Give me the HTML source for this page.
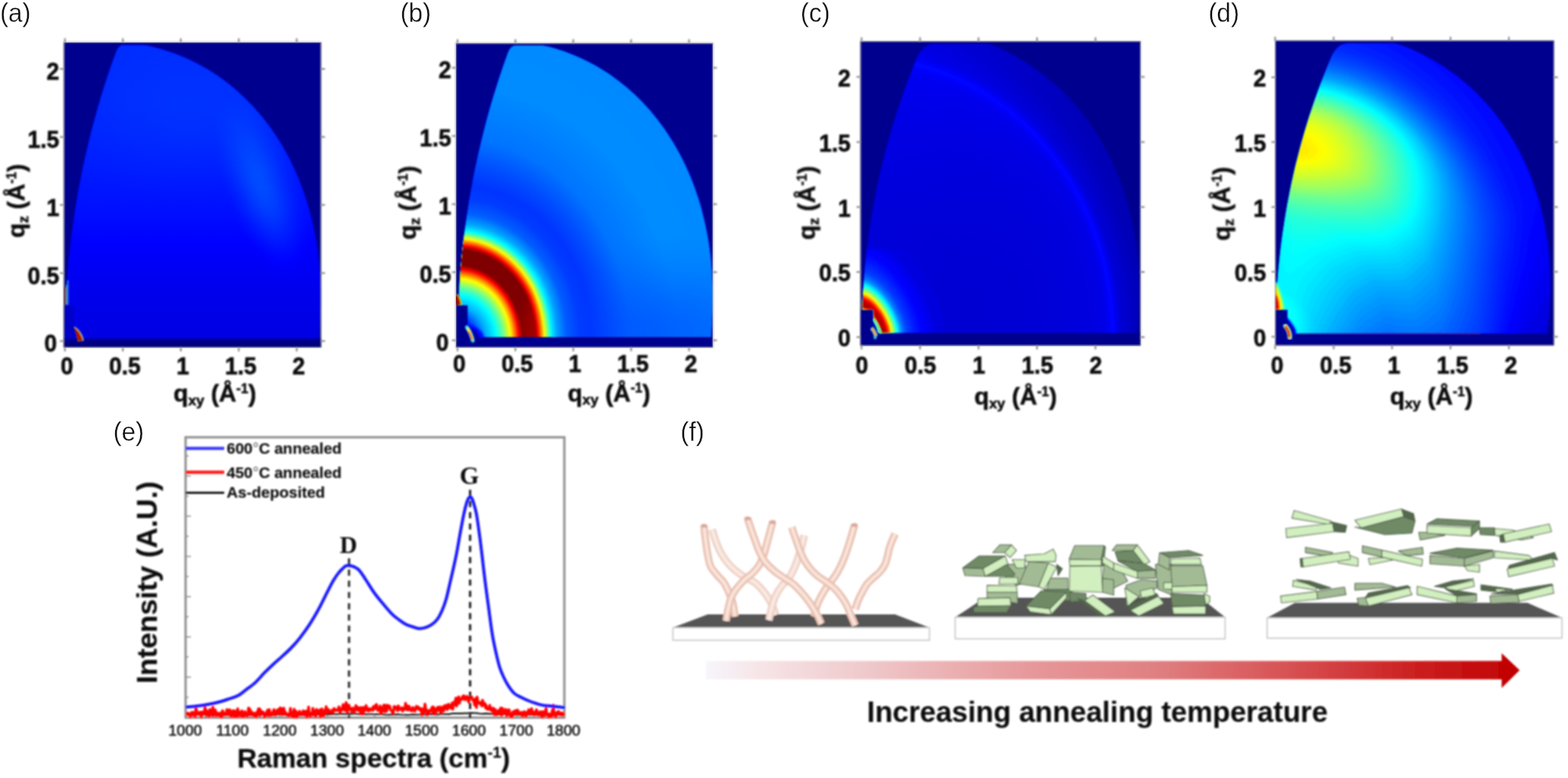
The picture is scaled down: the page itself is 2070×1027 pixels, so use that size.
<!DOCTYPE html>
<html lang="en"><head><meta charset="utf-8"><title>Figure</title>
<style>
html,body{margin:0;padding:0;background:#fff}
body{width:2070px;height:1027px;overflow:hidden;position:relative}
svg{position:absolute;left:0;top:0;display:block}
text{font-family:"Liberation Sans",sans-serif;fill:#111}
.b{font-weight:bold}
.ser{font-family:"Liberation Serif",serif;font-weight:bold}
</style></head><body>
<svg width="2070" height="1027" viewBox="0 0 2070 1027">
<defs>
<filter id="jet" x="0" y="0" width="100%" height="100%" filterUnits="objectBoundingBox" color-interpolation-filters="sRGB">
<feComponentTransfer>
<feFuncR type="table" tableValues="0 0 0 0 .5 1 1 1 .5"/>
<feFuncG type="table" tableValues="0 0 .5 1 1 1 .5 0 0"/>
<feFuncB type="table" tableValues=".5 1 1 1 .5 0 0 0 0"/>
</feComponentTransfer>
<feGaussianBlur stdDeviation="1.05"/>
</filter>
<filter id="soft" x="-5%" y="-5%" width="110%" height="110%"><feGaussianBlur stdDeviation="1.1"/></filter><filter id="tx" x="-5%" y="-10%" width="110%" height="120%"><feGaussianBlur stdDeviation="1.15"/></filter>
<filter id="fb" x="-3%" y="-3%" width="106%" height="106%" color-interpolation-filters="sRGB"><feGaussianBlur stdDeviation="1.6"/></filter>
<filter id="fb1" x="-10%" y="-10%" width="120%" height="120%" color-interpolation-filters="sRGB"><feGaussianBlur stdDeviation="1.0"/></filter>
<filter id="tagf" x="-5%" y="-10%" width="110%" height="120%"><feGaussianBlur stdDeviation="0.45"/></filter>
<filter id="ov" x="-20%" y="-20%" width="140%" height="140%"><feGaussianBlur stdDeviation="1.05"/></filter>
<filter id="soft2" x="-5%" y="-5%" width="110%" height="110%"><feGaussianBlur stdDeviation="1.1"/></filter>
<clipPath id="cpa"><rect x="84.5" y="56" width="339.1" height="402.4"/></clipPath><clipPath id="cpb"><rect x="602" y="57.2" width="339" height="401.1"/></clipPath><clipPath id="cpc"><rect x="1136.2" y="54.8" width="369.4" height="401"/></clipPath><clipPath id="cpd"><rect x="1684" y="54" width="367.2" height="401.5"/></clipPath><clipPath id="sa"><path d="M85.7 450.2L85.7 440.4L85.9 430.6L86.1 420.9L86.4 411.1L86.8 401.3L87.2 391.6L87.8 381.8L88.4 372L89.1 362.2L89.9 352.4L90.8 342.7L91.8 332.9L92.9 323.1L94 313.4L95.3 303.6L96.6 293.8L98 284L99.5 274.2L101.1 264.5L102.8 254.7L104.6 244.9L106.5 235.1L108.4 225.4L110.5 215.6L112.6 205.8L114.9 196.1L117.2 186.3L119.6 176.5L122.1 166.7L124.8 157L127.5 147.2L130.3 137.4L133.2 127.6L136.2 117.9L139.3 108.1L142.6 98.3L145.9 88.5L149.3 78.8L152.9 69L153.6 67.1L154.4 65.5L155.3 64L156.2 62.7L157.1 61.6L158.1 60.8L159.2 60.1L160.3 59.6L161.4 59.3L162.6 59.2L167.9 59.2L173.1 59.2L178.4 59.2L183.7 59.2L188.9 59.2L194.2 60L199.4 61.1L204.7 62.4L209.9 63.8L215.1 65.3L220.3 66.9L225.5 68.7L230.7 70.5L235.8 72.5L240.9 74.5L246 76.7L251 79L256.1 81.5L261 84L266 86.7L270.9 89.4L275.8 92.3L280.6 95.3L285.3 98.4L290.1 101.7L294.7 105L299.3 108.5L303.9 112L308.4 115.7L312.8 119.5L317.1 123.4L321.4 127.4L325.7 131.5L329.8 135.7L333.9 140L337.9 144.4L341.8 148.9L345.7 153.5L349.4 158.2L353.1 162.9L356.7 167.8L360.2 172.7L363.6 177.8L367 182.9L370.2 188.1L373.3 193.3L376.4 198.7L379.3 204.1L382.2 209.5L385 215L387.6 220.6L390.2 226.3L392.7 232L395.1 237.7L397.3 243.5L399.5 249.4L401.6 255.3L403.6 261.2L405.5 267.1L407.2 273.1L408.9 279.2L410.5 285.2L412 291.3L413.4 297.4L414.7 303.5L415.9 309.7L417 315.8L418 322L418.9 328.1L419.7 334.3L420.5 340.5L421.1 346.7L421.7 352.8L422.2 359L422.5 365.2L422.9 371.4L423.1 377.5L423.2 383.7L423.3 389.8L423.3 395.9L423.2 402L423.1 408.1L422.9 414.2L422.6 420.2L422.3 426.3L422 432.3L421.6 438.3L421.1 444.2L420.8 450.2L420.8 452L85.7 452Z"/></clipPath><clipPath id="sb"><path d="M604 449.2L604 439.5L604.2 429.7L604.4 420L604.7 410.3L605 400.6L605.5 390.8L606.1 381.1L606.7 371.4L607.4 361.6L608.2 351.9L609.1 342.2L610 332.4L611.1 322.7L612.2 313L613.5 303.2L614.8 293.5L616.2 283.8L617.7 274.1L619.2 264.3L620.9 254.6L622.7 244.9L624.5 235.1L626.4 225.4L628.5 215.7L630.6 206L632.8 196.2L635.1 186.5L637.5 176.8L640 167L642.5 157.3L645.2 147.6L648 137.8L650.9 128.1L653.9 118.4L656.9 108.7L660.1 98.9L663.4 89.2L666.8 79.5L670.3 69.7L671 67.9L671.9 66.2L672.7 64.8L673.6 63.5L674.6 62.4L675.7 61.6L676.7 60.9L677.9 60.4L679.1 60.1L680.4 60L685.6 60L690.9 60L696.2 60L701.4 60L706.7 60L711.9 60L717.2 60L722.4 60.9L727.6 62.3L732.9 63.8L738.1 65.4L743.2 67.1L748.4 68.9L753.5 70.9L758.6 73L763.7 75.2L768.8 77.5L773.8 79.9L778.8 82.4L783.7 85.1L788.6 87.8L793.5 90.7L798.3 93.7L803.1 96.8L807.8 100.1L812.5 103.4L817.1 106.9L821.6 110.4L826.1 114.1L830.6 117.9L834.9 121.8L839.2 125.8L843.4 129.9L847.6 134.1L851.7 138.4L855.7 142.8L859.6 147.3L863.4 151.9L867.2 156.6L870.9 161.4L874.5 166.3L878 171.2L881.4 176.2L884.7 181.4L888 186.6L891.1 191.8L894.2 197.2L897.2 202.6L900 208L902.8 213.6L905.5 219.2L908 224.8L910.5 230.5L912.9 236.3L915.2 242.1L917.3 248L919.4 253.9L921.4 259.8L923.3 265.8L925.1 271.8L926.8 277.8L928.3 283.9L929.8 290L931.2 296.1L932.5 302.2L933.7 308.4L934.8 314.5L935.8 320.7L936.8 326.9L937.6 333.1L938.3 339.3L939 345.5L939.5 351.6L940 357.8L940.4 364L940.7 370.2L940.9 376.4L941.1 382.5L941.2 388.7L941.2 394.8L941.1 400.9L941 407L940.8 413.1L940.5 419.2L940.2 425.2L939.8 431.2L939.4 437.2L939 443.2L938.6 449.2L938.6 452L604 452Z"/></clipPath><clipPath id="sc"><path d="M1137.4 445L1137.4 435.3L1137.6 425.6L1137.8 415.9L1138.2 406.2L1138.6 396.6L1139.1 386.9L1139.8 377.2L1140.5 367.5L1141.3 357.8L1142.2 348.1L1143.3 338.4L1144.4 328.7L1145.6 319L1146.9 309.3L1148.3 299.6L1149.8 290L1151.5 280.3L1153.2 270.6L1155 260.9L1156.9 251.2L1159 241.5L1161.1 231.8L1163.3 222.1L1165.7 212.4L1168.1 202.8L1170.7 193.1L1173.4 183.4L1176.2 173.7L1179 164L1182.1 154.3L1185.2 144.6L1188.4 134.9L1191.8 125.2L1195.3 115.5L1198.9 105.9L1202.6 96.2L1206.4 86.5L1210.4 76.8L1212.1 73.1L1214 69.8L1216 66.9L1218.2 64.4L1220.5 62.2L1222.9 60.5L1225.4 59.1L1228.1 58.2L1231 57.6L1234 57.4L1239.6 57.4L1245.2 57.4L1250.9 57.4L1256.5 57.4L1262.2 57.4L1267.8 57.4L1273.4 57.4L1279 57.4L1284.5 57.4L1290.1 57.4L1295.6 57.4L1301.1 57.4L1306.6 58.2L1312.1 60.5L1317.5 62.8L1322.9 65.2L1328.2 67.8L1333.5 70.5L1338.8 73.3L1344 76.2L1349.2 79.2L1354.3 82.4L1359.4 85.7L1364.4 89L1369.3 92.5L1374.2 96.1L1379.1 99.8L1383.8 103.7L1388.5 107.6L1393.1 111.6L1397.7 115.8L1402.1 120L1406.5 124.4L1410.8 128.8L1415.1 133.4L1419.2 138L1423.3 142.7L1427.2 147.6L1431.1 152.5L1434.9 157.5L1438.6 162.6L1442.2 167.7L1445.7 173L1449.1 178.3L1452.4 183.7L1455.6 189.2L1458.7 194.7L1461.7 200.3L1464.6 205.9L1467.4 211.7L1470 217.4L1472.6 223.3L1475.1 229.1L1477.5 235L1479.7 241L1481.9 247L1484 253.1L1485.9 259.1L1487.8 265.2L1489.5 271.4L1491.1 277.5L1492.7 283.7L1494.1 289.9L1495.4 296.2L1496.7 302.4L1497.8 308.7L1498.8 314.9L1499.7 321.2L1500.6 327.5L1501.3 333.7L1502 340L1502.5 346.3L1503 352.6L1503.3 358.8L1503.6 365.1L1503.8 371.3L1504 377.6L1504 383.8L1504 390L1503.9 396.2L1503.7 402.3L1503.4 408.5L1503.1 414.6L1502.8 420.7L1502.3 426.8L1501.9 432.9L1501.4 439L1501 445L1501 452L1137.4 452Z"/></clipPath><clipPath id="sd"><path d="M1683.4 444.4L1683.4 434.7L1683.6 425L1683.8 415.3L1684.2 405.7L1684.6 396L1685.1 386.3L1685.8 376.6L1686.5 366.9L1687.3 357.2L1688.3 347.5L1689.3 337.9L1690.4 328.2L1691.6 318.5L1692.9 308.8L1694.4 299.1L1695.9 289.4L1697.5 279.8L1699.2 270.1L1701.1 260.4L1703 250.7L1705 241L1707.2 231.3L1709.4 221.6L1711.8 212L1714.3 202.3L1716.8 192.6L1719.5 182.9L1722.3 173.2L1725.2 163.5L1728.2 153.8L1731.4 144.2L1734.6 134.5L1738 124.8L1741.5 115.1L1745.1 105.4L1748.9 95.7L1752.7 86.1L1756.7 76.4L1758.5 72.7L1760.3 69.4L1762.3 66.5L1764.4 64L1766.6 61.8L1768.9 60.1L1771.4 58.7L1774 57.8L1776.7 57.2L1779.5 57L1785.1 57L1790.7 57L1796.3 57L1802 57L1807.6 57L1813.2 57L1818.8 57L1824.4 57L1829.9 57L1835.5 57L1841 57L1846.5 58.4L1852 60.4L1857.5 62.5L1862.9 64.8L1868.3 67.1L1873.6 69.6L1879 72.3L1884.2 75L1889.4 77.8L1894.6 80.8L1899.7 83.9L1904.8 87.1L1909.8 90.4L1914.8 93.9L1919.7 97.4L1924.5 101.1L1929.2 104.9L1933.9 108.8L1938.5 112.8L1943.1 116.9L1947.5 121.1L1951.9 125.4L1956.2 129.9L1960.4 134.4L1964.6 139L1968.6 143.7L1972.5 148.5L1976.4 153.4L1980.2 158.4L1983.8 163.5L1987.4 168.6L1990.9 173.9L1994.2 179.2L1997.5 184.6L2000.6 190L2003.7 195.6L2006.7 201.1L2009.5 206.8L2012.2 212.5L2014.9 218.3L2017.4 224.1L2019.8 229.9L2022.1 235.9L2024.3 241.8L2026.4 247.8L2028.4 253.8L2030.3 259.9L2032.1 266L2033.7 272.1L2035.3 278.3L2036.7 284.4L2038.1 290.6L2039.3 296.8L2040.5 303.1L2041.5 309.3L2042.5 315.5L2043.3 321.8L2044 328L2044.7 334.2L2045.2 340.5L2045.7 346.7L2046.1 352.9L2046.4 359.2L2046.6 365.4L2046.7 371.6L2046.7 377.7L2046.6 383.9L2046.5 390L2046.3 396.2L2046.1 402.3L2045.7 408.4L2045.4 414.4L2044.9 420.5L2044.4 426.5L2043.9 432.5L2043.4 438.4L2042.9 444.4L2042.9 452L1683.4 452Z"/></clipPath><linearGradient id="ga" gradientUnits="userSpaceOnUse" x1="0" y1="59" x2="0" y2="450"><stop offset="0.000" stop-color="#2b2b2b"/><stop offset="0.200" stop-color="#2a2a2a"/><stop offset="0.400" stop-color="#272727"/><stop offset="0.550" stop-color="#242424"/><stop offset="0.700" stop-color="#1f1f1f"/><stop offset="0.850" stop-color="#1b1b1b"/><stop offset="1.000" stop-color="#191919"/></linearGradient><radialGradient id="ga2" gradientUnits="userSpaceOnUse" cx="0" cy="0" r="1" gradientTransform="translate(345 246) rotate(-20) scale(48 130)"><stop offset="0.000" stop-color="#454545" stop-opacity="0.420"/><stop offset="0.150" stop-color="#454545" stop-opacity="0.395"/><stop offset="0.300" stop-color="#454545" stop-opacity="0.328"/><stop offset="0.450" stop-color="#454545" stop-opacity="0.244"/><stop offset="0.600" stop-color="#454545" stop-opacity="0.155"/><stop offset="0.750" stop-color="#454545" stop-opacity="0.080"/><stop offset="0.880" stop-color="#454545" stop-opacity="0.029"/><stop offset="1.000" stop-color="#454545" stop-opacity="0.000"/></radialGradient><radialGradient id="ga3" gradientUnits="userSpaceOnUse" cx="0" cy="0" r="1" gradientTransform="translate(250 150) rotate(0) scale(200 120)"><stop offset="0.000" stop-color="#333333" stop-opacity="0.300"/><stop offset="0.150" stop-color="#333333" stop-opacity="0.282"/><stop offset="0.300" stop-color="#333333" stop-opacity="0.234"/><stop offset="0.450" stop-color="#333333" stop-opacity="0.174"/><stop offset="0.600" stop-color="#333333" stop-opacity="0.111"/><stop offset="0.750" stop-color="#333333" stop-opacity="0.057"/><stop offset="0.880" stop-color="#333333" stop-opacity="0.021"/><stop offset="1.000" stop-color="#333333" stop-opacity="0.000"/></radialGradient><radialGradient id="gb" gradientUnits="userSpaceOnUse" cx="604" cy="449.2" r="397.3" gradientTransform="translate(604 449.2) scale(1 1.1591) translate(-604 -449.2)"><stop offset="0.0000" stop-color="#262626"/><stop offset="0.0385" stop-color="#292929"/><stop offset="0.0638" stop-color="#2f2f2f"/><stop offset="0.0938" stop-color="#4a4a4a"/><stop offset="0.1296" stop-color="#606060"/><stop offset="0.1508" stop-color="#787878"/><stop offset="0.1765" stop-color="#9f9f9f"/><stop offset="0.1896" stop-color="#bdbdbd"/><stop offset="0.2027" stop-color="#dfdfdf"/><stop offset="0.2154" stop-color="#ffffff"/><stop offset="0.2612" stop-color="#ffffff"/><stop offset="0.2719" stop-color="#dfdfdf"/><stop offset="0.2831" stop-color="#bdbdbd"/><stop offset="0.2915" stop-color="#9f9f9f"/><stop offset="0.3023" stop-color="#808080"/><stop offset="0.3131" stop-color="#606060"/><stop offset="0.3331" stop-color="#4a4a4a"/><stop offset="0.3635" stop-color="#383838"/><stop offset="0.4069" stop-color="#2f2f2f"/><stop offset="0.4442" stop-color="#2d2d2d"/><stop offset="0.5000" stop-color="#333333"/><stop offset="0.5769" stop-color="#3d3d3d"/><stop offset="0.7308" stop-color="#434343"/><stop offset="1.0000" stop-color="#424242"/></radialGradient><radialGradient id="gb2" gradientUnits="userSpaceOnUse" cx="0" cy="0" r="1" gradientTransform="translate(880 440) rotate(0) scale(200 130)"><stop offset="0.000" stop-color="#303030" stop-opacity="0.550"/><stop offset="0.150" stop-color="#303030" stop-opacity="0.517"/><stop offset="0.300" stop-color="#303030" stop-opacity="0.429"/><stop offset="0.450" stop-color="#303030" stop-opacity="0.319"/><stop offset="0.600" stop-color="#303030" stop-opacity="0.204"/><stop offset="0.750" stop-color="#303030" stop-opacity="0.105"/><stop offset="0.880" stop-color="#303030" stop-opacity="0.039"/><stop offset="1.000" stop-color="#303030" stop-opacity="0.000"/></radialGradient><radialGradient id="gc" gradientUnits="userSpaceOnUse" cx="1137.4" cy="445" r="416.9" gradientTransform="translate(1137.4 445) scale(1 1.1120) translate(-1137.4 -445)"><stop offset="0.0000" stop-color="#161616"/><stop offset="0.3704" stop-color="#151515"/><stop offset="0.5926" stop-color="#161616"/><stop offset="0.7222" stop-color="#181818"/><stop offset="0.7741" stop-color="#1a1a1a"/><stop offset="0.7963" stop-color="#222222"/><stop offset="0.8185" stop-color="#161616"/><stop offset="0.8519" stop-color="#121212"/><stop offset="0.8889" stop-color="#0e0e0e"/><stop offset="1.0000" stop-color="#0a0a0a"/></radialGradient><linearGradient id="gc3" gradientUnits="userSpaceOnUse" x1="1250" y1="60" x2="1480" y2="440"><stop offset="0.000" stop-color="#242424" stop-opacity="0.350"/><stop offset="0.350" stop-color="#1f1f1f" stop-opacity="0.150"/><stop offset="0.700" stop-color="#1a1a1a" stop-opacity="0.000"/><stop offset="1.000" stop-color="#1a1a1a" stop-opacity="0.000"/></linearGradient><radialGradient id="gc2" gradientUnits="userSpaceOnUse" cx="0" cy="0" r="1" gradientTransform="translate(1139 432) rotate(0) scale(120 150)"><stop offset="0.0000" stop-color="#ffffff"/><stop offset="0.2750" stop-color="#ffffff"/><stop offset="0.2875" stop-color="#dfdfdf"/><stop offset="0.3017" stop-color="#bfbfbf"/><stop offset="0.3167" stop-color="#9f9f9f"/><stop offset="0.3417" stop-color="#808080"/><stop offset="0.3725" stop-color="#606060"/><stop offset="0.4250" stop-color="#404040"/><stop offset="0.4867" stop-color="#2f2f2f"/><stop offset="0.5833" stop-color="#252525" stop-opacity="0.900"/><stop offset="0.6833" stop-color="#1f1f1f" stop-opacity="0.600"/><stop offset="0.8333" stop-color="#1a1a1a" stop-opacity="0.250"/><stop offset="1.0000" stop-color="#171717" stop-opacity="0.000"/></radialGradient><radialGradient id="gd" gradientUnits="userSpaceOnUse" cx="1683.4" cy="444.4" r="401.2" gradientTransform="translate(1683.4 444.4) scale(1 1.1095) translate(-1683.4 -444.4)"><stop offset="0.0000" stop-color="#545454"/><stop offset="0.1923" stop-color="#4f4f4f"/><stop offset="0.3846" stop-color="#454545"/><stop offset="0.5000" stop-color="#3b3b3b"/><stop offset="0.6154" stop-color="#2b2b2b"/><stop offset="0.7308" stop-color="#202020"/><stop offset="0.8462" stop-color="#1b1b1b"/><stop offset="1.0000" stop-color="#1a1a1a"/></radialGradient><radialGradient id="gd2" gradientUnits="userSpaceOnUse" cx="0" cy="0" r="1" gradientTransform="translate(1722 190) rotate(0) scale(150 150)"><stop offset="0.000" stop-color="#b8b8b8" stop-opacity="0.850"/><stop offset="0.150" stop-color="#b8b8b8" stop-opacity="0.799"/><stop offset="0.300" stop-color="#b8b8b8" stop-opacity="0.663"/><stop offset="0.450" stop-color="#b8b8b8" stop-opacity="0.493"/><stop offset="0.600" stop-color="#b8b8b8" stop-opacity="0.315"/><stop offset="0.750" stop-color="#b8b8b8" stop-opacity="0.162"/><stop offset="0.880" stop-color="#b8b8b8" stop-opacity="0.060"/><stop offset="1.000" stop-color="#b8b8b8" stop-opacity="0.000"/></radialGradient><radialGradient id="gd3" gradientUnits="userSpaceOnUse" cx="0" cy="0" r="1" gradientTransform="translate(1700 330) rotate(0) scale(130 200)"><stop offset="0.000" stop-color="#6b6b6b" stop-opacity="0.800"/><stop offset="0.150" stop-color="#6b6b6b" stop-opacity="0.752"/><stop offset="0.300" stop-color="#6b6b6b" stop-opacity="0.624"/><stop offset="0.450" stop-color="#6b6b6b" stop-opacity="0.464"/><stop offset="0.600" stop-color="#6b6b6b" stop-opacity="0.296"/><stop offset="0.750" stop-color="#6b6b6b" stop-opacity="0.152"/><stop offset="0.880" stop-color="#6b6b6b" stop-opacity="0.056"/><stop offset="1.000" stop-color="#6b6b6b" stop-opacity="0.000"/></radialGradient><clipPath id="rcp"><rect x="245" y="577.2" width="501" height="371.1"/></clipPath><linearGradient id="arr" gradientUnits="userSpaceOnUse" x1="932" y1="0" x2="2006" y2="0"><stop offset="0" stop-color="#f6f6fc"/><stop offset="0.06" stop-color="#f7e6e8"/><stop offset="0.2" stop-color="#efc8ca"/><stop offset="0.4" stop-color="#e6989a"/><stop offset="0.55" stop-color="#e08082"/><stop offset="0.72" stop-color="#d75052"/><stop offset="0.87" stop-color="#cc2020"/><stop offset="1" stop-color="#c00000"/></linearGradient></defs><g filter="url(#jet)"><g clip-path="url(#cpa)"><rect x="84.5" y="56" width="339.1" height="402.4" fill="#040404"/><g clip-path="url(#sa)"><rect x="84.5" y="56" width="339.1" height="402.4" fill="url(#ga)"/><rect x="84.5" y="56" width="339.1" height="402.4" fill="url(#ga3)"/><rect x="84.5" y="56" width="339.1" height="402.4" fill="url(#ga2)"/></g><rect x="81.5" y="447" width="345.1" height="12" fill="#040404" opacity="0.85" filter="url(#soft2)"/><rect x="84" y="403.2" width="13.4" height="46" fill="#0d0d0d" opacity="0.55"/></g></g><g clip-path="url(#cpa)"><g filter="url(#ov)"><rect x="84.2" y="380" width="2.6" height="22.4" fill="#9c4a30" opacity="0.9"/><rect x="86.8" y="376" width="1.6" height="26.4" fill="#90c080" opacity="0.8"/><rect x="88.4" y="370" width="2.2" height="32.4" fill="#10a8f0" opacity="0.8"/><path d="M97.4 430.4Q104 433.2 108.4 441.4Q111 446.4 111 450L102.6 450.6Q101.4 441 97.4 430.4Z" fill="#28b0e0" opacity="0.8"/><path d="M97.6 431.2Q103.4 434 107.6 442Q110 446.6 110 449.8L102.8 450.4Q101.6 441.4 97.6 431.2Z" fill="#e8c030"/><path d="M97.6 432Q102.8 434.8 106.8 442.4Q109.2 446.8 109.2 449.8L102.6 450.4Q101.2 442 97.6 432Z" fill="#b01404"/></g></g><g filter="url(#jet)"><g clip-path="url(#cpb)"><rect x="602" y="57.2" width="339" height="401.1" fill="#040404"/><g clip-path="url(#sb)"><rect x="602" y="57.2" width="339" height="401.1" fill="url(#gb)"/><rect x="602" y="57.2" width="339" height="401.1" fill="url(#gb2)"/></g><rect x="602" y="445" width="339" height="14" fill="#040404"/><rect x="602" y="403" width="15.2" height="46" fill="#040404"/><g filter="url(#fb1)"><polygon points="615,428 622,429 630,433 636,438 640,446 615,446" fill="#202020" opacity="0.9"/><polygon points="615,431 620,432 626,436 630,440 633,446 615,446" fill="#080808"/></g><rect x="602" y="403" width="14.8" height="46" fill="#040404"/></g></g><g clip-path="url(#cpb)"><g filter="url(#ov)"><path d="M601 388.4L605.2 388.8Q608.6 395 610.4 402.6H601Z" fill="#f0c020"/><path d="M601 389.6L604.4 390Q607.4 396 608.6 402.6H601Z" fill="#a60a04"/><path d="M616.4 432Q621.8 439.6 624.2 449.8" fill="none" stroke="#20d8e8" stroke-width="5" stroke-linecap="round"/><path d="M616.8 433Q621.8 440 623.8 449" fill="none" stroke="#f8e818" stroke-width="3.2"/><path d="M619.2 438Q622.4 443.6 623.6 448.6" fill="none" stroke="#f06008" stroke-width="2.2"/></g></g><g filter="url(#jet)"><g clip-path="url(#cpc)"><rect x="1136.2" y="54.8" width="369.4" height="401" fill="#040404"/><g clip-path="url(#sc)"><rect x="1136.2" y="54.8" width="369.4" height="401" fill="url(#gc)"/><rect x="1136.2" y="54.8" width="369.4" height="401" fill="url(#gc3)"/><rect x="1136" y="400" width="24" height="46" fill="#040404"/><g filter="url(#fb1)"><path d="M1134 328l61.3 0 10.1 12 7.7 10.5 5.8 9 0.6 1.5 3.9 6 3.3 6 8.6 18 6.3 16.5 4.5 16.5 1.7 10.5 0.2 6-0.4 7.5-91.8 0 1.5-4.5 0.4-3-0.3-3-1.8-6-3.6-6.8-4.5-5.7-3-2.7-3-2-3-1.2-1.5 0.1-3 1.3z" fill="#181818"/><path d="M1134 328l35.2 0 11.7 10.5 11.6 13 9 12 7.9 12.5 7.2 13.5 6 13.5 4.7 13.5 3.2 13.5 1.2 9-0.8 9-75 0 1.7-6 0-4.5-1.9-6-3.7-7-4.5-5.7-3-2.7-3-2-3-1.2-1.5 0.2-3 1.3z" fill="#1c1c1c"/><path d="M1134 328l18.8 0 5.2 3 9 6.5 9 8 8.9 9.5 7.6 9.5 7.5 10.9 6.5 11.1 5.5 11 4.8 11.5 3.9 12 2.6 12 0.7 7.5-0.8 7.5-67.1 0 1.4-4.5 0.5-4.5-2.1-7.5-3.9-7.3-5.1-6.2-5.4-4.1-3-1.1-1.5 0.1-3 1.3z" fill="#1f1f1f"/><path d="M1134 334l0-0.3 1.5-0.4 3-0.2 3 0.4 4.5 1.5 6 2.8 7.5 4.6 7.5 5.9 7.5 7.1 6.6 7.1 7.2 9 6.2 9 6.2 10.5 5.9 12 4.7 12 2.8 9 1.9 9 0.7 7.5-0.9 7.5-59.6 0 1.8-6 0-3.7-2-6.8-4-7.5-4.9-6-2.6-2.3-3-2-3-1.1-1.5 0.1-3 1.3z" fill="#222222"/><path d="M1134 340l0-0.4 1.5-0.3 3-0.3 4.5 0.9 7.5 3.2 7.5 4.6 7.5 5.8 7.5 7 7.2 8 6.3 8.2 6.5 9.8 5.5 9.8 4.6 9.7 4.1 10.5 3.1 10.5 1.7 9 0.3 4.5-0.9 7.5-55 0 1.6-5.5 0-5-1.8-6-4.2-7.7-4.7-5.8-2.8-2.5-3-2-3-1.1-1.5 0.1-3 1.3z" fill="#252525"/><path d="M1134 346l0-0.5 3-0.7 4.5 0.5 7.5 2.9 7.5 4.5 7.5 5.8 6 5.6 6.8 7.4 6 7.5 6.1 9 4.4 7.5 4.6 9 4.4 10.5 3.3 10.5 2.1 10.5 0.4 4.5-1 7.5-50.6 0 1.5-4.9 0.3-2.6-0.3-3.6-1.7-5.4-4.3-8-4.5-5.5-3-2.7-2.8-1.8-3.2-1.3-1.5 0.1-3 1.3z" fill="#282828"/><path d="M1134 350.5l0-0.3 1.5-0.4 3-0.3 4.5 1 6 2.6 7.5 4.6 7.5 6 6 5.8 6 6.7 5.6 7.3 5.9 9 5 8.9 4.3 9.1 3.4 9 2.6 9 1.4 7.5 0.4 4.5-1 7.5-47 0 1.6-6-0.2-5.7-3-7.9-3-5.1-4.5-5.4-3-2.8-2.4-1.6-3.6-1.4-1.5 0.1-3 1.3z" fill="#2b2b2b"/><path d="M1134 355l4.5-0.8 4.5 1 6 2.7 6 3.7 6 4.6 6 5.5 6 6.6 6.4 8.2 5.6 8.5 4.5 8 4.2 9 3.4 9 2.6 9 1.3 7.5 0 4.5-0.9 6-43.4 0 1.3-3.8 0.5-3.7-0.5-4.7-3-7.6-3-5.1-4.5-5.4-5.1-4.2-3.9-1.6-1.5 0.1-3 1.4z" fill="#2e2e2e"/><path d="M1134 359.5l0-0.3 3-0.8 4.5 0.6 6 2.4 6 3.5 7.5 5.8 4.5 4.3 5.1 5.5 6 7.5 6.1 9 3.4 6 4.4 9 3 7.5 2.8 9 1.5 7.5 0.2 6-1.1 6-40.2 0 1.3-3.3 0.6-4.2-0.6-5.1-3-7.4-3-5.2-4.5-5.2-4.8-4.1-2.7-1.4-1.5-0.3-1.9 0.2-2.6 1.3z" fill="#313131"/><path d="M1134.4 361l4.1-0.7 3 0.7 6 2.4 6 3.6 6 4.6 6 5.6 6 6.7 5.4 7.1 4.9 7.5 4.2 7.5 3.5 7.5 3.4 9 2.2 7.5 1.3 7.5 0.1 4.5-1 6-38.7 0 1.2-3 0.7-4.5-0.7-5.5-3-7.2-3-5.2-4.5-5.1-4.5-4-3-1.5-1.5-0.3-2.3 0.3-2.2 1.1 0-52z" fill="#343434"/><path d="M1135.3 362.5l3.2-0.4 4.5 1.1 6 2.8 6 3.9 5.6 4.6 4.9 4.8 6 6.8 4.8 6.4 4.9 7.5 4.1 7.5 4.1 9 2.7 7.5 2 7.5 1.2 7.5-0.1 3-1 6-37.3 0 1.2-3 0.7-4.5-0.8-5.9-3-7-3-5.1-4.5-5.2-4.5-3.9-3-1.5-1.5-0.3-2.7 0.4-1.8 1 0-50.1z" fill="#373737"/><path d="M1136.6 364l3.4 0.1 6 2.1 4.5 2.5 6 4.3 5.2 4.5 5.3 5.4 5.5 6.6 4.3 6 4.6 7.5 3.9 7.5 3.3 7.5 2.6 7.5 1.9 7.5 0.9 6-0.1 3-1 6-35.9 0 1.2-3 0.7-4.5-0.9-6-3-7.1-2.9-4.9-4.6-5.3-4.5-3.9-3-1.5-1.5-0.3-3 0.5-1.5 0.9 0-48.3z" fill="#3a3a3a"/><path d="M1134 367l0-0.6 3-0.7 3 0.2 6 2.1 6 3.5 6 4.6 6 5.6 5.6 6.3 4.5 6 4.9 7.4 4.2 7.6 3.4 7.5 2.8 7.5 2.1 7.5 1.2 7.5-0.1 3-1 6-34.5 0 1.1-3 0.8-4.5-0.9-6-3.1-7.3-2.8-4.7-4.7-5.4-4.5-3.9-3-1.5-1.5-0.3-3 0.5-1.5 0.9z" fill="#3d3d3d"/><path d="M1134 368.5l0-0.3 3-0.9 3 0.2 4.5 1.5 7.5 4.2 6 4.7 4.5 4.2 4.1 4.4 6 7.5 7.7 12 4.4 9 3 7.5 2.6 9 0.9 6 0.2 3-0.9 7.5-33.4 0 1.2-3 0.7-4.5-0.8-6-3.2-7.5-2.7-4.5-5.2-6-3.6-3-2.7-1.5-2.3-0.7-1.5 0.1-3 1.3z" fill="#404040"/><path d="M1138 368.5l3.5 0.6 4.5 1.8 7.5 4.6 4.3 3.5 4.8 4.5 6.6 7.5 7.5 10.5 4.2 7.5 2.9 6 1.9 4.5 3 9 1.4 6 0.5 4.5-0.2 4.5-0.9 4.5-32.3 0 1.1-3 0.8-4.5-0.3-3-0.6-3-1.7-4.5-4.2-7.5-5.1-6-3.6-3-2.6-1.5-2.5-0.8-1.5 0.1-3 1.3 0-43.4z" fill="#434343"/><path d="M1134.3 370l4.2-0.7 3 0.6 4.5 1.9 6 3.5 4.8 3.7 5.7 5.4 5.9 6.6 4.5 6 4.8 7.5 3.2 6 2.9 6 2.8 7.5 1.8 6 1.5 7.5 0 4.5-1 6-31.6 0 1.1-3 0.8-4.5-0.3-3-0.6-3-1.7-4.5-4.2-7.5-5.1-6-3.6-3-2.5-1.5-2.7-0.9-1.5 0.1-3 1.3 0-42.4z" fill="#464646"/><path d="M1134 371.5l0-0.6 3-0.8 3 0.2 4.5 1.6 6 3.3 6 4.4 5.8 5.4 4.7 5.3 5.2 6.7 3.9 6 4.4 7.9 3.3 7.1 2.7 7.5 2 7.5 0.9 6-0.1 3-1 6-30.9 0 1.1-3 0.8-4.5 0-1.5-1.3-5.6-1.5-3.8-3-5.5-4.5-6-6-5.2-3-1.5-1.5-0.4-3 0.6-1.5 0.8z" fill="#494949"/><path d="M1134.5 371.5l4-0.7 3 0.7 4.5 1.9 6 3.6 6 4.8 4.5 4.3 5.5 6.4 4.5 6 3.8 6 4.2 7.7 3.3 7.3 2.6 7.5 1.5 6 0.9 6 0 3-1.1 6-30.3 0 1.1-3 0.9-4.5-0.1-1.5-1.3-5.8-1.5-3.7-3-5.6-4.5-5.9-3.1-3-2.9-2.2-4.5-1.9-3 0.6-1.5 0.8 0-40.6z" fill="#4c4c4c"/><path d="M1134 373l0-0.5 3-0.8 3 0.2 4.5 1.5 6 3.4 5 3.7 5.5 5 5 5.5 5.5 7.1 4.5 7 3.8 6.9 3.4 7.5 2.6 7.5 1.6 6 0.9 6-0.1 3-1.1 6-29.6 0 1.7-6 0.2-3-1.4-6-1.5-3.7-3-5.5-4.5-5.9-3-2.9-3-2.3-4.5-1.9-1.5 0.1-3 1.3z" fill="#505050"/><path d="M1134.8 373l3.7-0.6 3 0.7 4.5 1.9 6 3.6 6 4.9 4.5 4.4 4.5 5.2 4.5 6 4.4 6.9 4 7.5 3.2 7.5 2.1 6 1.6 6 0.9 6-0.1 3-1 6-29 0 1.7-6 0.2-3.1-1.5-6-1.5-3.7-3-5.5-4.5-5.9-3-2.9-3-2.3-4.5-1.9-1.5 0.1-3 1.3 0-38.9z" fill="#535353"/><path d="M1134 374.5l0-0.5 3-0.8 3 0.2 4.5 1.6 6 3.4 4.8 3.6 5.7 5.3 4.7 5.2 4.6 6 4.2 6.3 4 7.2 3.4 7.5 2.7 7.5 1.6 6 0.9 6-0.1 3-1 6-28.3 0 1.7-6 0.1-3.5-0.9-4-1.7-4.5-3.4-6.4-4.5-5.9-3-2.9-3-2.2-4.5-2-1.5 0.2-3 1.2z" fill="#565656"/><path d="M1135 374.5l3.5-0.5 3 0.7 4.5 1.9 6 3.7 4.5 3.6 5.8 5.6 8.4 10.5 3.8 6 4.1 7.5 3.3 7.5 2.1 6 1.6 6 0.9 6-0.1 3-1 6-27.6 0 1.7-6.1 0-3.8-0.8-3.6-1.7-4.5-3.5-6.5-4.5-5.9-3-2.9-3-2.2-4.5-2-1.5 0.2-3 1.2 0-37.1z" fill="#595959"/><path d="M1134 376l0-0.4 3-0.8 3 0.2 4.5 1.6 6 3.5 6 4.7 4.5 4.3 4.5 5 4.5 5.9 4.5 7.1 3.5 6.4 2.7 6 2.7 7.5 1.6 6 1 6-0.1 3-1.1 6-27 0 1.8-6-0.1-4.3-2.4-7.7-3.6-6.6-4.5-5.9-3-2.9-3-2.2-4.5-2-1.5 0.2-3 1.2z" fill="#5c5c5c"/><path d="M1135.3 376l3.2-0.5 3 0.7 4.5 1.9 6 3.9 4.5 3.6 5.5 5.4 6.2 7.5 3.1 4.5 6.8 12 4.8 12 1.6 6 0.9 6-0.1 3-1 6-26.4 0 1.7-6-0.1-4.5-2.4-7.5-3.6-6.7-4.5-5.9-3-2.9-3-2.2-4.5-1.9-1.5 0.1-3 1.2 0-35.4z" fill="#5f5f5f"/><path d="M1134 377.5l0-0.5 3-0.7 3 0.1 4.5 1.6 6 3.5 6 4.9 4.5 4.3 5.4 6.3 4.4 6 4.5 7.5 3 6 4.6 12 1.5 6 0.5 4.5-0.2 4.5-0.9 4.5-25.8 0 1.7-6-0.1-4.5-2.4-7.5-3.7-6.9-4.5-5.8-3-2.9-3-2.2-4.5-1.9-1.5 0.1-3 1.2z" fill="#626262"/><path d="M1134.5 377.5l2.5-0.7 3 0.2 4.5 1.6 6 3.6 4.5 3.5 4.5 4.1 5.1 5.7 4.6 6 7.2 12 3.4 7.5 2.6 7.5 1.5 6 0.6 4.5-0.3 4.5-0.9 4.5-25.2 0 1.6-6 0-4.5-2.4-7.5-3.8-7-5.2-6.5-5.3-4.4-4.5-1.9-1.5 0.1-3 1.2 0-33.9z" fill="#656565"/><path d="M1136.4 377.5l2.1-0.2 4.5 1.3 4.5 2.2 4.5 3 4.5 3.8 5 4.9 4 4.8 4.5 6.1 3.5 5.6 3.9 7.5 2.5 6 2.5 7.5 1.7 9-0.3 4.5-0.9 4.5-24.8 0 1.7-6-0.1-4.5-2.4-7.5-3.8-7.1-5.1-6.4-5.4-4.5-4.5-1.9-1.5 0.1-3 1.3 0-33.3z" fill="#686868"/><path d="M1134 379l0-0.3 3-0.8 3 0.2 4.5 1.6 4.5 2.6 5.6 4.2 4.9 4.5 4.5 5 4.5 5.9 4.5 7.1 3.2 6 2.8 6.2 2.6 7.3 1.5 6 0.6 4.5-0.1 3-1.1 6-24.3 0 1.7-6-0.1-4.5-2.4-7.5-3.9-7.2-5-6.3-5.5-4.5-4.5-2-1.5 0.1-3 1.3z" fill="#6b6b6b"/><path d="M1134.7 379l3.8-0.7 3 0.8 4.5 1.9 4.5 2.8 4.5 3.6 4.5 4.2 4.8 5.4 4.5 6 3.8 6 3.4 6.4 3.1 7.1 2.1 6 1.5 6 0.6 4.5-0.1 3-1.1 6-23.8 0 1.6-6-0.1-4.5-2.4-7.5-3.9-7.3-4.9-6.2-5.6-4.6-4.5-1.9-1.5 0.1-3 1.2 0-32.1z" fill="#6e6e6e"/><path d="M1136.7 379l3.3 0.1 4.5 1.7 4.5 2.6 4.3 3.1 4.7 4.2 4.5 4.8 7.5 10.1 3.8 6.4 3 6 4.4 12 1.7 9-0.1 3-1.1 6-23.4 0 1.7-6-0.1-4.5-2.4-7.5-4-7.4-4.8-6.1-5.7-4.7-4.5-1.9-1.5 0.1-3 1.2 0-31.4z" fill="#717171"/><path d="M1134 380.5l3-1 3 0.2 4.5 1.6 4.5 2.6 5.4 4.1 4.8 4.5 4.8 5.5 3.8 5 3.9 6 3.2 6 3.4 7.5 2.1 6 1.5 6 0.7 4.5-0.1 3-1.2 6-22.9 0 1.7-6-0.1-4.5-2.4-7.5-4.1-7.5-4.7-6-5.8-4.8-4.5-1.9-1.5 0.1-3 1.2z" fill="#747474"/><path d="M1134.9 380.5l3.6-0.6 3 0.7 4.5 2 4.5 2.9 4.5 3.6 4.5 4.3 4.5 5.2 4.4 5.9 3.7 6 3.2 6 3.2 7.5 1.9 6 1.8 9-0.2 3.5-1 5.5-22.5 0 1.6-6-0.1-4.5-2.4-7.5-4-7.5-4.8-6-5.8-4.9-4.5-1.9-1.5 0.1-3 1.2 0-30.2z" fill="#777777"/><path d="M1137 380.5l3 0.2 3 1 4.5 2.3 4.5 3.2 4.5 3.8 4.5 4.7 7.9 10.3 6.6 12 2.6 6 1.9 6 1.8 9-0.1 3-1.1 6-22.1 0 1.7-6-0.1-4.5-2.4-7.5-4-7.5-4.8-6-5.9-5-4.5-1.9-1.5 0.1-3 1.3 0-29.7z" fill="#7a7a7a"/><path d="M1134 382l3-1 3 0.2 4.5 1.7 4.5 2.6 4.5 3.4 4.5 4.2 4.5 4.9 4.5 5.9 4.2 6.6 3.2 6 4.8 12 1.5 6 0.7 4.5-0.1 3-1.1 6-21.6 0 1.6-6 0-4.5-1.8-6-4.6-9-4.8-6-6-5.1-4.5-1.9-1.5 0.2-3 1.2z" fill="#7d7d7d"/><path d="M1135.2 382l3.3-0.5 3 0.7 4.5 2.1 4.5 2.8 4.5 3.7 4.5 4.4 4.5 5.3 3.9 5.5 3.7 6 3.1 6 2.6 6 1.9 6 1.8 9-0.1 3-1.1 6-21.1 0 1.6-6-0.1-4.5-1.7-6-4.7-9-4.8-6.1-6-5-4.5-1.9-1.5 0.1-3 1.2 0-28.4z" fill="#818181"/><path d="M1138.4 382l3.1 0.7 4.5 2.1 7.5 5.3 8.3 8.4 7.6 10.5 5.6 10.5 2.4 6 1.9 6 0.9 4.5 0.5 4.5-1.3 7.5-20.7 0 1.7-6-0.1-4.5-1.7-6-4.7-9-4.9-6.2-6-5-4.5-1.9-1.5 0.1-3 1.2 0-27.8z" fill="#848484"/><path d="M1134 383.5l3-0.9 3 0.2 4.5 1.7 4.5 2.7 4.5 3.4 4.5 4.3 8 9.6 3.9 6 3.2 6 2.9 6.4 2.5 7.1 1.7 9-0.1 3-1.1 6-20.2 0 1.6-6 0-4.5-1.8-6-4.6-9-5-6.3-6-5-4.5-1.9-1.5 0.1-3 1.2z" fill="#878787"/><path d="M1135.4 383.5l3.1-0.5 3 0.8 4.5 2.1 4.5 2.9 4.5 3.7 4.4 4.5 7.6 9.7 6.4 11.3 2.6 6 2.1 6 1.8 9-0.1 3-1.2 6-19.7 0 1.6-6-0.1-4.5-1.7-6-4.6-9-5.1-6.4-3-2.9-3-2.1-4.5-1.9-1.5 0.1-3 1.2 0-26.5z" fill="#8a8a8a"/><path d="M1134 385l0-0.5 1.5-0.5 3-0.4 4.5 1.3 4.5 2.4 4.5 3.2 4.5 4 4.5 4.9 4.5 5.8 4.4 6.8 3.1 5.9 2.6 6.1 2.1 6 1.8 9-0.1 3-1.2 6-19.3 0 1.7-6-0.1-4.5-1.7-6-4.6-9-5.2-6.5-3-2.9-3-2.1-4.5-1.9-1.5 0.1-3 1.2z" fill="#8d8d8d"/><path d="M1134.1 385l2.9-0.8 3 0.2 4.5 1.7 4.5 2.7 4.5 3.5 4.5 4.4 7.6 9.3 3.8 6 3.2 6 2.6 6 2.1 6 1.8 9-0.1 3-1.2 6-18.8 0 1.6-6-0.1-4.5-1.7-6-4.6-9-5.2-6.7-3-2.8-3-2.1-4.5-1.8-1.5 0.1-3 1.1z" fill="#909090"/><path d="M1135.7 385l2.8-0.4 3 0.8 4.5 2.1 4.5 3 4.5 3.8 4.1 4.2 7 9 3.7 6 3.1 6 2.5 6 1.9 6 1 4.5 0.4 4.5-1.3 7.5-18.3 0 1.6-6-0.1-4.5-2.3-7.5-4-7.5-5.3-6.8-3-2.8-3-2.1-4.5-1.8-1.5 0.1-3 1.1 0-24.6z" fill="#939393"/><path d="M1134 386.5l0-0.4 1.5-0.5 3-0.5 4.5 1.4 4.5 2.4 4.5 3.3 4.5 4.1 4.5 5 3.6 4.7 3.9 6 3.3 6 2.6 6 2.1 6 1.8 9-0.1 3-1.2 6-17.9 0 1.6-6 0-4.5-2.3-7.5-4-7.5-5.4-6.9-3-2.8-3-2.1-4.5-1.8-1.5 0.1-3 1.1z" fill="#969696"/><path d="M1134.3 386.5l2.7-0.8 3 0.2 4.5 1.8 4.5 2.8 4.5 3.6 4.5 4.4 7.2 9 6.1 10.5 3.2 7.3 2 6.2 1 4.5 0.5 4.5-1.3 7.5-17.5 0 1.6-6-0.1-4.5-2.3-7.5-3.9-7.5-5.5-7-3-2.8-3-2-4.5-1.9-1.5 0.1-3 1.1 0-23.4z" fill="#999999"/><path d="M1136 386.5l2.5-0.3 3 0.7 4.5 2.2 4.5 3 4.5 3.9 3.8 4 4.9 6 3 4.5 5.7 10.5 2.9 7.5 1.6 6 0.7 6-1.3 7.5-17 0 1.6-6-0.1-4.5-2.3-7.5-3.9-7.5-5.6-7.1-3-2.8-3-2-4.5-1.9-1.5 0.1-3 1.1 0-22.8z" fill="#9c9c9c"/><path d="M1134 388l0-0.4 3-0.9 3 0.2 4.5 1.8 3 1.8 7.9 6.5 7.9 9 3.1 4.5 4.2 7.5 3.3 7.5 1.5 4.5 1.9 9-0.3 4.5-1.1 4.5-16.6 0 1-3 0.8-4.5-0.5-4.5-2-6-4-7.5-4.5-6-5.6-5.1-3-1.8-3-1-1.5 0.1-3 1.1z" fill="#9f9f9f"/><path d="M1134.3 388l2.7-0.9 3 0.2 4.5 1.9 4.5 2.7 4.5 3.8 4.3 4.3 3.9 4.5 3.3 4.5 6 10.5 2.6 6 1.9 6 1.3 6 0.2 3-1.4 7.5-16.2 0 1-3 0.8-4.5-0.5-4.5-2-6-4-7.5-5.7-7.3-3-2.8-3-2-4.5-1.9-1.5 0.1-3 1.1 0-21.6z" fill="#a2a2a2"/><path d="M1135.2 388l1.8-0.5 3 0.2 3 1.1 6 3.6 4.5 3.6 4 4 7.1 9 6.1 10.5 3.1 7.5 1.5 4.5 1.2 6 0.2 3-1.3 7.5-15.9 0 1-3 0.8-4.5-0.6-4.5-2-6-3.9-7.5-3.2-4.5-2.6-2.9-3-2.8-3-2-4.5-2-1.5 0.2-3 1.1 0-21.2z" fill="#a5a5a5"/><path d="M1136.5 388l2-0.2 4.5 1.4 3 1.5 4.5 3.1 8 7.7 5.8 7.5 6.1 10.5 3.1 7.5 1.5 4.5 1.2 6 0.3 3-1.4 7.5-15.6 0 1.7-6-0.1-4.5-2.3-7.5-3.9-7.5-3.2-4.5-2.7-3-3-2.8-3-2.1-4.5-1.9-1.5 0.2-3 1.1 0-20.7z" fill="#a8a8a8"/><path d="M1134 389.5l0-0.4 1.5-0.5 3-0.5 4.5 1.4 4.5 2.5 4.5 3.4 4.5 4.3 7.5 9.3 6.1 10.5 3.2 7.5 1.4 4.5 1 4.5 0.5 4.5-1.4 7.5-15.2 0 1.6-6-0.1-4.5-2.2-7.5-3.9-7.5-3.2-4.5-2.8-3.1-3-2.8-3-2.1-4.5-1.9-1.5 0.2-3 1.1z" fill="#ababab"/><path d="M1134 389.5l3-1 3 0.3 3 1.1 4.5 2.5 4.5 3.4 4.4 4.2 7.3 9 6.3 10.9 2.4 5.6 2 6 1.1 4.5 0.4 4.5-1.3 7.5-14.9 0 1-3 0.8-4.5-0.6-4.5-3.3-9-3.5-6-5.1-6.2-6-4.9-4.5-1.9-1.5 0.1-3 1.2z" fill="#aeaeae"/><path d="M1134.7 389.5l2.3-0.7 3 0.3 3 1.1 4.5 2.5 4.5 3.5 4.5 4.3 7.5 9.4 6.3 11.1 3.9 10.5 1 4.5 0.5 4.5-1.4 7.5-14.5 0 1.6-6-0.1-4.5-2.2-7.5-3-6-1.9-3-5.2-6.3-6-4.9-4.5-1.9-1.5 0.1-3 1.2 0-19.4z" fill="#b1b1b1"/><path d="M1135.7 389.5l2.8-0.4 3 0.8 3 1.4 4.5 2.8 7.5 6.7 4.4 5.2 3.2 4.5 5.9 10.5 2.5 6 1.8 6 1.1 7.5-1.3 7.5-14.2 0 1.8-7.5-0.6-4.5-2.6-7.5-4.2-7.5-5.3-6.5-6-4.8-4.5-1.9-1.5 0.1-3 1.2 0-19z" fill="#b5b5b5"/><path d="M1137 389.5l3 0.2 3 1.1 3.1 1.7 4.4 3.1 7.5 7.3 6.8 9.1 5.6 10.5 3.7 10.5 1.1 7.5-1.4 7.5-13.8 0 1.7-7.5-0.5-4.5-2.7-7.5-4.1-7.5-5.4-6.6-6-4.8-4.5-1.9-1.5 0.1-3 1.2 0-18.6z" fill="#b8b8b8"/><path d="M1134 391l1.5-0.8 3-0.5 3 0.9 4.5 2.2 4.5 3.2 4.5 4 7.5 9 6.2 10.5 2.7 6 2 6 1.1 4.5 0.5 4.5-1.4 7.5-13.6 0 1.8-7.5-0.6-4.5-2.6-7.5-4.1-7.5-5.5-6.7-6-4.8-4.5-1.9-1.5 0.1-3 1.2z" fill="#bbbbbb"/><path d="M1134.2 391l2.8-0.8 3 0.2 3 1.1 4.5 2.6 4.5 3.5 4 3.9 7.2 9 6 10.5 4 10.5 1.1 4.5 0.4 4.5-1.4 7.5-13.2 0 1.8-7.5-0.6-4.5-2.6-7.5-4.1-7.5-5.6-6.8-6-4.8-4.5-1.9-1.5 0.1-3 1.2z" fill="#bebebe"/><path d="M1135.1 391l1.9-0.5 3 0.2 3 1.1 4.5 2.6 4.5 3.5 3.7 3.6 7.2 9 6 10.5 4.1 10.7 1 4.3 0.5 4.5-1.4 7.5-12.9 0 1-3 0.8-4.5-0.6-4.5-2.6-7.5-4.1-7.5-5.7-7-6-4.8-4.5-1.8-1.5 0.1-3 1.2 0-17.3z" fill="#c1c1c1"/><path d="M1136.2 391l2.3-0.3 3 0.8 3 1.4 4.5 2.9 7.7 7.2 7.3 9.6 5.4 9.9 3.7 10.5 1.1 7.5-1.4 7.5-12.5 0 1-3 0.8-4.5-0.6-4.5-3.3-9-3.4-6-5.8-7.1-6-4.8-4.5-1.8-1.5 0.1-3 1.2 0-16.9z" fill="#c4c4c4"/><path d="M1134 392.5l0-0.4 1.5-0.6 3-0.4 3 0.8 4.5 2.2 4.5 3.3 4.5 4.1 7.3 9 6.1 10.5 4.1 10.5 1 4.5 0.5 4.5-1.4 7.5-12.2 0 1.3-4.5 0.4-4.5-0.9-4.5-2.9-7.5-5.6-9-3.7-4.2-3-2.7-4.5-2.9-3-1-1.5 0.1-3 1.2z" fill="#c7c7c7"/><path d="M1134 392.5l3-1 1.5-0.1 3 0.8 4.5 2.3 4.5 3.2 4.1 3.8 7.4 9 6.2 10.5 4 10.5 1.1 4.5 0.5 4.5-1.4 7.5-11.9 0 1-3 0.7-6-0.9-4.5-2.9-7.5-5.6-9-3.8-4.3-3-2.7-4.5-2.9-3-1-1.5 0.1-3 1.2z" fill="#cacaca"/><path d="M1134.6 392.5l2.4-0.7 3 0.2 3 1.2 4.5 2.6 7.5 6.5 4.5 5.2 3 4.1 3 4.9 3.1 6 3.8 10.5 1.1 7.5-1.4 7.5-11.6 0 1.1-3 0.7-4.5-0.5-4.5-1.9-6-2.9-6-1.9-3-6.1-7.5-6-4.8-4.5-1.7-1.5 0-3 1.2 0-15.5z" fill="#cdcdcd"/><path d="M1135.5 392.5l3-0.5 1.5 0.4 3 1.1 4.5 2.6 7.5 6.5 4.2 4.9 3.3 4.6 5.8 10.4 3.8 10.5 1.2 7.5-1.4 7.5-11.3 0 1.1-3 0.7-4.5-0.9-6-2.9-7.5-3.4-6-6.1-7.5-6.1-4.9-4.5-1.7-1.5 0-3 1.2 0-15z" fill="#d0d0d0"/><path d="M1136.8 392.5l1.7-0.1 3 0.8 3 1.4 4.5 3 7.5 7.1 6.7 8.8 5.3 9.9 3.4 9.6 1.1 7.5-1.4 7.5-10.9 0 1.1-3 0.7-4.5-0.8-6-3-7.5-3.3-6-6.1-7.5-6.3-5-4.5-1.8-1.5 0.1-3 1.2 0-14.6z" fill="#d3d3d3"/><path d="M1134 394l1.5-0.8 3-0.5 3 0.8 4.5 2.3 4.5 3.3 4.1 3.9 7.3 9 5.9 10.5 3.8 10.5 1.2 7.5-1.5 7.5-10.5 0 1.1-3 0.6-6-0.7-4.5-3-7.5-3.3-6-4.6-6-3.4-3.3-4.5-3.4-3-1.4-3-0.2-3 1.2z" fill="#d6d6d6"/><path d="M1134.1 394l2.9-0.9 1.5 0 3 0.7 4.5 2.4 4.5 3.3 3.8 3.5 3.7 4.2 3.6 4.8 6 10.5 2.4 6 1.5 4.9 1 7.1-0.6 4.5-0.9 3-10.1 0 1.1-3 0.7-4.5 0-1.5-0.8-4.5-2.9-7.5-3.4-6-3.3-4.5-3.3-3.6-3-2.6-3-2.1-3-1.4-3-0.2-3 1.2z" fill="#d9d9d9"/><path d="M1135 394l2-0.5 3 0.2 6.7 3.3 7.2 6 7.4 9 6 10.5 2.7 6.7 1.5 5.2 0.7 6.1-0.6 4.5-0.9 3-9.7 0 0.7-1.5 1.2-6-1.3-7.5-4.1-9-1.7-3-4.6-6-5.2-4.9-3-2-3-1.5-3-0.1-1.5 0.3-1.5 0.9 0-13.2z" fill="#dcdcdc"/><path d="M1136.2 394l3.8 0 6.2 3 7.3 6 7.5 9 6 10.5 3 7.4 1.5 5.6 0.3 6.5-0.3 2.4-1.1 3.6-9.3 0 0.8-1.5 1.2-6-1.4-7.5-3.2-7.5-2.6-4.5-4.5-6-5.4-5.1-4.5-2.8-1.5-0.6-3-0.2-1.5 0.3-1.5 1 0-12.7z" fill="#dfdfdf"/><path d="M1134 395.5l3-1.2 1.5-0.1 3.9 1.3 2.9 1.5 7.5 6 6.7 7.7 6 9.7 3 6.6 1.5 4.3 1.2 4.7 0.4 4.5-0.3 3-1.2 4.5-8.7 0 1.6-6 0.2-3-1.3-6-0.9-1.4-0.3-1.6-2-4.5-2.6-4.5-3.3-4.5-6.8-6.8-4.5-2.8-1.5-0.6-4.5 0.2-1.5 0.9z" fill="#e2e2e2"/><path d="M1135.5 395.5l3-0.5 2 0.5 4 1.8 3 2 4.5 3.7 3 3.1 6.8 8.9 4.9 9 3.3 9.3 1.1 7.2-1.5 7.5-8 0 1.8-7.5-1.4-7.5-1-1.8-0.7-2.7-1.4-3-5.9-9-7-7-4.5-2.9-1.5-0.4-3-0.1-1.5 0.2-1.5 0.8 0-11z" fill="#e5e5e5"/><path d="M1134 397l1.5-0.8 3-0.5 3 0.9 4.5 2.4 3.3 2.5 4.2 3.8 6.6 8.2 5.4 9.3 3.9 10.2 0.9 4.5 0.2 3-1.4 7.5-7.3 0 1.6-6 0.1-3-1-3.3-0.3-2.7-3.1-7.5-5.9-9-7.2-7.2-4.5-2.9-1.5-0.3-3-0.2-3 0.8z" fill="#e9e9e9"/><path d="M1135.5 397l3-0.5 1.5 0.3 3 1.3 4.5 2.8 7.2 6.6 6.3 8.4 5.1 9.6 3.1 9 0.8 6-1.5 7.5-6.5 0 1.8-7.5-0.3-3-1.2-4.5-3-7.5-1.7-3-4.2-6-5.9-6.2-3-2.4-3-1.7-3-0.8-4.5 1 0-8.8z" fill="#ececec"/><path d="M1134 398.5l1.5-0.7 3-0.4 3 0.7 3.6 1.9 3.9 2.8 3.5 3.2 7 8.6 3 4.9 3 5.9 3.1 9.1 0.7 6-0.6 4.5-0.9 3-5.5 0 1.5-6-0.1-4.5-2.8-9-3-6-3-4.5-5.9-6.8-6-4.6-4.5-1.7-1.5 0.1-3 1.1z" fill="#efefef"/><path d="M1136.4 398.5l3.6 0.1 6 3 7.5 6.8 4.3 5.1 3 4.5 4.6 9 2.8 9 0.3 6.3-1.4 5.7-4.6 0 1.2-4.5 0.5-4.5-1.2-6-1.7-4.5-3-6-2.9-4.5-3.4-4.2-3.2-3.3-4.3-3.4-3-1.7-3-1-1.5 0.1-3 1.1 0-6z" fill="#f2f2f2"/><path d="M1134.2 401.5l2.8-1 1.5-0.1 3 0.9 3 1.6 4.2 3.1 3.2 3 6.1 7.6 5 8.9 3.2 9 0.9 6-1.6 7.5-2.2 0 1.6-7.5-0.2-3-0.7-1.4-0.9-4.6-0.6-0.5-0.6-2.5-1.5-3-3.3-6-6-7.5-3.6-3.4-4.5-3.2-4.5-1.6-1.5 0-3 1.3z" fill="#f5f5f5"/><path d="M1136 403l2.5-0.4 1.6 0.4zM1134 404.5l0-0.7 0.4 0.7zM1142.3 404.5l1.1 0zM1144.3 406l0.2-0.6 1 0.6zM1147.4 407.5l0.3 0zM1148.9 409l0.1-0.3 0.4 0.3zM1150.4 410.5l0.1-0.4 0.4 0.4zM1151.9 412l0.1-0.3 0.3 0.3zM1156.4 418l0.1-0.7 0.5 0.7zM1159.4 422.5l0.1-0.4 0.2 0.4zM1160.9 425.5l0.1-0.5 0.3 0.5-0.3 0.3zM1162.5 428.5l0 1.4zM1163.9 433l0.4 1.5-0.3 0.2zM1165.5 440.5l0-0.4zM1163.9 446.5l0.1-0.7 0.3 0.7-0.3 1.1z" fill="#f6f6f6"/></g></g><rect x="1136.2" y="439.6" width="369.4" height="17" fill="#040404"/><rect x="1136.2" y="409" width="16.4" height="36" fill="#040404"/><g filter="url(#fb1)"><polygon points="1135,409.6 1152.2,409.6 1152.6,421 1150.6,433 1153,441 1158,445 1135,446" fill="#040404"/></g></g></g><g clip-path="url(#cpc)"><g filter="url(#ov)"><path d="M1153.6 421Q1160 430 1163.2 440" fill="none" stroke="#60f0a0" stroke-width="3.4"/><path d="M1150.6 432.6Q1155 438 1156.6 444" fill="none" stroke="#30d8e8" stroke-width="5"/><path d="M1151 433Q1155 438 1156.4 443.6" fill="none" stroke="#f8a010" stroke-width="3"/><path d="M1154.6 444L1156 447.4" fill="none" stroke="#28d0f0" stroke-width="3.6"/></g></g><g filter="url(#jet)"><g clip-path="url(#cpd)"><rect x="1684" y="54" width="367.2" height="401.5" fill="#040404"/><g clip-path="url(#sd)"><g filter="url(#fb)"><rect x="1684" y="54" width="367.2" height="401.5" fill="#141414"/><path d="M1680 50l376 0 0 410-376 0z" fill="#151515"/><path d="M1680 50l376 0 0 410-376 0z" fill="#171717"/><path d="M1680 50l376 0 0 366.9-9.1 7.1-8.9 6.1-5.5 7.9-5 6-0.4 2-0.3 14-346.8 0z" fill="#191919"/><path d="M1680 50l376 0 0 326.6-9.7 11.4-10.3 10.8-7.8 15.2-10.2 16.7-6.7 13.3-0.6 16-330.7 0z" fill="#1c1c1c"/><path d="M1680 50l376 0 0 278.2-12 21.8-12 18.6-6.5 17.4-9.5 20.7-13.9 37.3-0.5 16-321.6 0z" fill="#1e1e1e"/><path d="M1680 50l376 0 0 216-4 4.7-6.8 21.3-6.4 18-6.3 16-6.5 14.7-4.8 19.3-11.2 32.3-15.4 51.7-0.5 16-314.1 0z" fill="#202020"/><path d="M1680 50l205 0 19 15.6 17.1 16.4 27.2 30 16.2 20 10.1 14 10.4 16 9.4 16 8.4 16 8.4 18 7.5 18 6.5 18 5 16 0 2-4.7 22-6.8 26-2.1 16-2.8 14-11.8 44.1-13.6 55.9-0.5 16-307.9 0z" fill="#222222"/><path d="M1680 50l161 0 15 8.6 16 10.5 14 10.4 14 11.5 14 12.9 12 12.3 12.1 13.8 12.7 16 9.9 14 10.2 16 8 14 8.2 16 8.1 18 6.3 16 5.3 16 5 18-2 16-0.5 18-2 18-3.8 20-13.2 60-4.3 24-3.1 14-0.5 16-302.4 0z" fill="#242424"/><path d="M1680 50l125.2 0 2.8 1.1 20 9.1 20 11 18 11.6 16 11.9 18 15.4 16 15.7 14.4 16.2 14.1 18 8.3 12 8.8 14 7.9 14 7.1 14 6.2 14 7.7 20 6.3 18 4.1 14 0.2 20-1.9 22-3.6 22-7.8 40-6.5 42-3.8 18-0.5 16-297 0z" fill="#262626"/><path d="M1680 50l86.1 0 11.9 3.1 14 4.4 14 5.2 14 6.2 16 8.1 18 10.7 16 11 16 12.6 16 14.5 13.8 14.2 13.7 16 10.6 14 10.8 16 8.6 14 7.8 14 5.9 12 6.2 14 5.3 14 4.6 14 4.2 16-0.1 18-1.8 20-2.7 18-4.9 27.4-7.2 52.6-2.4 14-2.3 10-0.5 16-291.6 0z" fill="#282828"/><path d="M1685.9 54l14.1-1.4 20 0.1 20 1.8 16 2.6 18 4.1 18 5.5 16 6.1 18 8.3 18 9.9 14 8.9 12 8.5 18 14.5 16 14.9 13.5 14.2 11.8 14 11.8 16 7.9 12 8.2 14 6.3 12 5.6 12 5.8 14 4.8 14 4.1 14 3.1 14-0.5 16-1.5 16-4.6 30-8 64-3 18-2.8 12-0.5 16-286 0 0-405.1z" fill="#2a2a2a"/><path d="M1685.9 60l14.1-1.4 18 0 18 1.5 18 2.8 18 4.1 18 5.4 18 6.9 16 7.3 16 8.5 16 10 16 11.4 14 11.4 14 12.9 12.6 13.2 11.9 14 11.8 16 9.1 14 6.9 12 6.2 12 6.3 14 5.4 14 4.4 14 3.1 12 2.8 14-0.3 12-1.5 16-2.6 18-8.5 72-3.6 21.8-3.3 14.2-0.6 16-280.1 0 0-399.1z" fill="#2c2c2c"/><path d="M1694.6 64l15.4-0.6 18 0.8 18 2.2 16 3.1 16 4.1 18 5.9 18 7.4 16 7.9 14 7.9 16 10.5 14 10.4 14 11.9 13 12.5 12.8 14 11.2 14 9.9 14 7.5 12 6.7 12 5.9 12 5.9 14 4.3 12 4.1 14 3.1 14 2.2 14-1.2 16-7.3 66-3.4 26-3.4 22-2.3 12-2.1 8-0.6 16-274.3 0 0-394z" fill="#2e2e2e"/><path d="M1700.1 68l15.9-0.1 16 1 16 2.1 18 3.7 16 4.4 18 6.3 16 6.9 16 8.1 14 8.2 16 10.8 14 10.9 13.3 11.7 12.7 12.8 11.6 13.2 10.8 14 9.5 14 7.1 12 6.2 12 5.5 12 5.3 14 4.4 14 2.8 12 2.1 12 1.4 12-3 36-5.3 44-6.4 45.8-2.6 12.2-3.6 12-0.4 14-267.4 0 0-389.7 10-1.5z" fill="#303030"/><path d="M1696.9 72l17.1-0.4 18 1.1 18 2.5 16 3.3 16 4.4 16 5.6 16 6.8 16 8 16 9.5 14 9.5 14 10.9 12.2 10.8 12.1 12 12.3 14 10.7 14 9.3 14 7 12 7 14 5.8 14 4.2 12 3.7 14 2.4 12 1.5 12 0.7 12-0.9 16-1.6 16-9 70-2.5 14-2.9 11.9-3.6 10.1-2.9 6-0.4 2-0.4 14-258.7 0 0-385.9z" fill="#323232"/><path d="M1690.3 76l15.7-1 16 0.3 18 1.7 16 2.7 16 3.7 18 5.6 16 6.3 16 7.4 16 8.9 14 9 15.4 11.4 14.1 12 12.5 12.3 12.2 13.7 10.8 14 9.4 14 6.9 12 6.1 12 5.9 14 4.1 12 3.2 12 2.4 12 2.1 18 0.8 12-2.3 26-9.2 68-2.5 12-4.5 16-4.5 12-4.2 8-0.4 2-0.4 14-249.9 0 0-382.5z" fill="#343434"/><path d="M1684.8 80l13.2-1.6 18-0.3 16 1 18 2.5 18 3.9 18 5.3 16 6 18 8.2 14 7.6 16 10.2 14 10.3 14 11.8 12 11.6 12.1 13.5 11 14 9.3 14 7 12 5.9 12 5.8 14 4 12 3.4 14 2.6 16 1.3 12 0.5 14-2.3 22-6.2 46-2.7 16-4.4 18-5 16-5.7 14-4.7 8-0.5 2-0.4 14-241 0 0-379.5z" fill="#363636"/><path d="M1689.2 82l14.8-1.1 18 0.2 18 1.7 16 2.8 16 3.8 18 5.7 16 6.3 16 7.7 14 7.9 16 10.5 13.7 10.5 12.3 10.7 12 12 11.6 13.3 10.5 14 9 14 6.5 12 5.6 12 4.6 12 3.6 12 3.5 16 1.9 12 1 12 0.1 14-0.9 10-6.4 46-4.5 24-5.3 20-5.4 16-6.2 14-3.3 6-2.9 4-0.5 2-0.4 14-232.1 0 0-376.7z" fill="#383838"/><path d="M1694.4 84l15.6-0.7 16 0.7 16 1.7 18 3.3 16 4.2 16 5.3 16 6.6 16 8 16 9.4 13.8 9.5 14.2 11.3 11.7 10.7 11.5 12 10 12 10.1 14 8.5 14 6.1 12 5.2 12 4.1 12 3.7 14 2.4 12 1.4 12 0.5 12-0.3 12-0.8 8-5.9 42-6.2 28.9-5.5 19.1-6.5 17.5-7 14.5-3.7 6-3.1 4-0.7 2-0.3 14-223.2 0 0-374.1z" fill="#3a3a3a"/><path d="M1699.9 86l16.1-0.2 16 1.1 16 2.2 18 3.8 16 4.6 16 5.9 16 7.2 16 8.6 14 8.9 14 10.2 13.7 11.7 12.2 12 10.6 12 10.6 14 7.8 12 7.6 14 6.1 14 5.4 16 3.6 14 2.2 14 0.8 14-0.4 14-4.7 38-3.2 18-4.8 20-5.5 18.8-6 16.4-6 13.2-6 10.4-8 5.2-8.2 4-1.6 2-0.5 14-203.7 0 0-371.7z" fill="#3c3c3c"/><path d="M1707.3 88l16.7 0.4 16 1.7 16 2.8 16 3.9 14 4.5 16 6.2 16 7.7 14 7.9 14 9.2 14 10.7 12.5 11 11.7 12 10.2 12 10.1 14 8.5 14 6 12 6.3 16 4.3 14 2.9 14 1.5 14 0.2 12-1 14-3.5 28-3.7 20.1-4.9 19.9-6.2 20-6 16-6.9 14.8-4 3.9-9.9 7.3-10 6-8 4-2.1 0.5-38-6.4-12.6 7.9-1.1 2-0.8 14-135.5 0 0-369.5 14-1.9z" fill="#3e3e3e"/><path d="M1685.2 92l12.8-1.5 16-0.4 16 0.9 18 2.5 16 3.4 18 5.2 16 6 16 7.4 16 8.9 14 9.2 13.7 10.4 12.3 10.9 12 12.2 10.8 12.9 8.5 12 8.4 14 6.8 14 6.2 16 3.9 14 2.4 14 0.9 12-0.3 14-2.1 22-2.7 18-4.2 20-5.6 20-7 20.8-7.2 17.2-0.8 1.5-2.6 2.5-9.4 8-8.4 6-9.6 5.9-2 0.9-38-5.9-2 0.6-24.4 16.5-1.1 2-0.8 14-121.7 0 0-367.4z" fill="#404040"/><path d="M1685.3 94l14.7-1.7 20 0 20 1.9 18 3.3 18 4.8 18 6.4 18 8.1 18 10 16 10.8 14 11.2 14 13.2 12.5 14 10.4 14 9.7 16 7.7 16 5.8 16 3.7 16 1.2 8 0.7 10-0.3 14-2.5 26-3.5 20-5.4 22-8 24.4-8 19.6-6 6-8 7-8 6.1-8 5.3-2 0.1-14-1.5-24-3.4-28 19.5-2 2-4.1 4.9-0.6 2-0.9 14-112.4 0 0-365.4z" fill="#424242"/><path d="M1685 96l15-1.7 20 0 20 1.9 18 3.3 18 4.9 18 6.4 18 8.2 18 10.2 15.7 10.8 14.3 11.7 12.8 12.3 12.3 14 11.4 16 9.2 16 7.1 16 4.5 14 3 14 1.3 16-0.9 22-2 18-3.3 18-4.7 18-7.2 22-7.5 18.9-6.7 7.1-7.3 6.8-9 7.2-7 4.7-18-1.3-22-2.5-28 19.4-11.8 15.7-0.6 2-0.9 14-104.7 0 0-363.4z" fill="#444444"/><path d="M1702.2 96l17.8 0.1 16 1.4 18 3 18 4.6 18 6.1 16 7 16 8.5 16 10.2 14.6 11.1 13.2 12 11.3 12 11 14 10.3 16 7.2 14 5.6 14 4.2 16 1.7 12 0.5 14-1.1 20-2.3 18-2.8 14-4.3 16-6 18-7.1 18.2-6 6.8-9.4 9-9.7 8-2.9 2.1-2 0.9-18-0.6-22-2-26 17.3-2 1.9-17.6 24.4-0.5 2-1 14-96.9 0 0-361.6 12-1.7z" fill="#464646"/><path d="M1697.8 98l16.2-0.3 18 1.1 18 2.7 18 4.3 16 5.1 18 7.4 16 8.2 16 10 15.4 11.5 13.4 12 11.4 12 11 14 9.3 14 7.3 14 5.6 14 4.2 16 1.7 12 0.4 12-0.7 18-2.5 20-2.9 14-4.6 16-7 19.6-4 10-1.4 2.4-6.6 7.2-8 7.8-10 8.4-4 2.4-18-0.1-22-1.8-26 16.7-3.1 3.4-22.2 32-1.7 16-89 0 0-359.8z" fill="#484848"/><path d="M1694.1 100l15.9-0.7 18 0.9 18 2.3 18 4 16 4.9 18 7.1 16 7.9 16 9.7 14 10.1 14 12 13.3 13.8 11.2 14 9.2 14 7.2 14 5.4 14 3.6 14 1.8 14 0.1 16-0.8 14-2.2 16-3 14-3.8 13.1-6 16.5-6 14-14.3 14.4-9.7 8.3-4 2.6-20 0.4-20-1.4-28 17.1-10.7 15-18.4 28-1.7 16-81.2 0 0-358.1z" fill="#4a4a4a"/><path d="M1690.9 102l17.1-1 18 0.6 18 2.3 18 3.8 18 5.5 16 6.3 16 7.8 16 9.6 15.3 11.1 12.7 11 12.6 13 11.2 14 9.1 14 7.1 14 5.3 14 3.3 14 1.3 12 0.3 14-0.8 14-1.8 14-2.9 14-3.5 12-5.1 14-6.1 14.5-4 4.6-9.1 8.9-14.9 12.5-18 0.9-24-0.8-12 7.5-14 7.9-5 6-9.8 14-19.8 32-1.8 16-73.6 0 0-356.5z" fill="#4c4c4c"/><path d="M1687.6 104l16.4-1.4 18 0.4 18 1.9 18 3.5 18 5.2 16 6 16 7.6 16 9.3 14 9.8 14 11.7 12.1 12 11.6 14 9.3 14 7.3 14 5.3 14 3.3 14 1.2 10 0.5 16-0.9 14-1.9 14-2.6 12-3.7 12-5.5 14.3-5.4 11.7-12.6 12.5-14 11.6-6 1-12 0.6-12 0-12-0.6-28 15.4-9 11.5-9.6 14-7.4 12.4-12 21.6-2 16-66 0 0-354.9z" fill="#4f4f4f"/><path d="M1685.1 106l14.9-1.7 18 0 18 1.6 18 3.2 18 4.9 18 6.6 16 7.4 16 9.3 14 9.7 14 11.6 12 12 11.1 13.4 9.2 14 7.2 14 5.1 14 3 14 1.2 14 0.2 10-1 14-1.6 12-2.4 11-3.4 11-4.6 12-6 13-14 13.2-10 8.2-4 2.6-20 1.5-22-0.4-12 6.9-16 8.2-14.7 18.8-6.6 10-5.8 10-14.3 28-1.1 10-1.1 6-58.4 0 0-353.4z" fill="#515151"/><path d="M1696.8 106l17.2-0.3 16 1 16 2.4 18 4.1 16 5.2 16 6.6 16 8.2 14 8.7 13.6 10.1 13.4 12 11.1 12 9.2 12 7.5 12 6.7 14 4.5 14 2.5 14 0.9 12 0 10-0.9 12-1.8 12-2.3 10-3.2 10-4 10-5.7 12-1.6 2-9.9 8.9-16 12.6-8 1.2-12 0.8-24 0-14 7.7-14.1 6.8-10.2 12-7.5 10-6.5 10-4.4 8-11.8 26-2.2 8-0.7 8-1.5 8-53.1 0 0-351.9z" fill="#535353"/><path d="M1690.9 108l15.1-0.9 18 0.5 18 2.3 18 3.8 18 5.6 16 6.5 16 8.1 14 8.7 14 10.4 12.4 11 11.1 12 10.5 14 7.1 12 6.3 14 4 14 2 14 0.6 10-0.3 10-1 12-1.7 10-2.5 10-2.7 8-4.2 10-5.6 11-14 12-14 10.1-20 1.8-24 0.2-12 6.4-16 7.4-1.5 1.1-12.1 14-7.6 10-6.4 10-5.9 12-5.7 14-1.5 12-1.7 8-1 10-1.3 6-49.3 0 0-350.4z" fill="#555555"/><path d="M1687 110l15-1.4 18 0.2 18 1.9 18 3.5 18 5.3 16 6.2 16 7.8 14.2 8.5 13.8 10 13.7 12 11.2 12 9.2 12 7.3 12 6.3 14 4.1 14 2.1 14 0.6 10-0.3 10-0.8 10-1.6 10-1.9 8-3.4 10-3.4 8-5.1 10-2 2.5-8 6.7-18 12.9-4 0.9-16 1.4-26 0.5-14 7.1-14 6.1-3 1.9-12.7 14-9.3 12-6 10-5.5 12-3.2 8-0.3 18-2.1 12-1.1 10-1.4 6-45.4 0 0-349z" fill="#575757"/><path d="M1701.9 110l18.1 0.2 18 1.9 18 3.6 18 5.3 17.5 7 15.8 8 14.7 9.2 14 10.6 13.1 12.2 10.5 12 8.5 12 7.5 14 5.2 14 2.9 14 1.3 14-0.3 14-1 10-1.5 8-2.1 8-2.8 8-4.6 10-4.4 8-6.3 5.3-10 7.3-12 7.7-18 1.9-28 0.7-2 0.6-12 6-18 7.8-10.5 10.7-7.5 8.5-5.8 7.5-3.9 6-5 10-3.9 10-0.3 4 1.3 14-0.2 10-0.7 6-1.4 6-0.7 8-1.9 8-41.5 0 0-347.6 12-1.7z" fill="#595959"/><path d="M1693 112l17-0.7 16 0.8 18 2.5 16 3.6 16 5.1 16 6.6 14 7.2 14.3 8.9 13.2 10 11 10 10.9 12 8.7 12 6.8 12 5 12 4 16 1.5 12 0.2 10-0.5 10-1.2 10-1.7 8-2.5 8-3.3 8-5.2 10-2.9 4-12.3 9.1-16 9.7-20 1.8-28 0.8-14 6.6-16 6.2-3 1.8-12.3 12-7.3 8-4.8 6-2.8 4-4.2 8-5.3 14 3.3 16 0.9 14-0.5 8-1.6 8-0.8 8-2.1 8-37.5 0 0-346.1z" fill="#5b5b5b"/><path d="M1688.1 114l15.9-1.3 16 0.3 18 1.9 16 3.2 16 4.6 16 6.1 14.9 7.2 13.5 8 14 10 11.5 10 11.3 12 9 12 7 12 5.1 12 3.8 14 1.8 12 0.3 10-0.3 10-0.8 8-1.5 8-2.3 8-3.1 8-4.2 8.4-4 6.3-14 9.9-14 8-2 0.7-24 1.9-24 0.4-18 7.5-16 5.7-1.9 1.2-15.6 14-7.8 8-4.9 6-3.6 6-2.8 6-2.1 6-1.5 6 3.6 8 2.5 8 1.7 8 0.9 8 0.1 8-0.6 6-1.3 6-0.8 8-2.5 8-33.4 0 0-75.2 2 0 0.5-0.8 0.8-4 1.4-12 0.5-14-1.4-38-1.8-8.5-2 0.1 0-192.3z" fill="#5d5d5d"/><path d="M1706.3 114l17.7 0.6 16 2.1 16 3.4 16 4.8 16 6.4 13.4 6.7 13.2 8 13.4 9.9 11.3 10.1 9.3 10 9 12 6.9 12 4.9 12 3.3 12 1.8 12 0.3 14-0.6 10-1.7 10-2.2 8-3.1 8-7.2 13.1-3.3 2.9-6.7 4.6-12 6.9-9.4 4.5-22.6 1.7-28 0.6-18 7.1-18 5.5-2.1 1.1-31.9 23.2-4 2.1-4 0.8-2-0.8-2-2.3-2-4.3-2-6.7-2-9.3-3.2-20.7-4.8-18.5-2 0 0-180.9 14-2zM1689.1 386l2.9-0.3 4 1.2 4 2.7 4 4.3 2.7 4.1 3 6 3.6 12 1.4 12 0 6-0.7 5.8-5.2 4.2-0.8 2-1.5 8-2.8 6-23.7 0 0-68.8 2-0.1 4-4z" fill="#5f5f5f"/><path d="M1694 116l10-0.6 10 0 20 1.7 12 2.1 10 2.3 20 6.4 18.3 8.1 17.7 10.2 15.9 11.8 6.7 6 7.9 8 5.1 6 6 8 3.8 6 4.3 8 3.4 8 2.6 8 1.9 8 1.3 8 0.6 10-0.2 10-0.8 8-1.4 8-2.4 8-2.7 6.7-4 7.5-4 5.8-12 7.8-18 9-22 1.7-32 0.7-22 7.4-20 4.7-10 4.6-8 2.1-6-0.5-4-2.2-2-2-3.5-5.3-3.7-8-4.8-7.8-2-4.8-4-13.8-2 0.1 0-171.7zM1685.5 394l2.5-1.1 2-0.1 4 1 4 2.5 3.5 3.7 3.7 6 2.5 6 1.7 6 1.3 8-0.7 3.6-11.1 10.4-6.1 4-2.8 5.8-2 2.2-4 1.5-4-0.8 0-55.5 2-0.1z" fill="#616161"/><path d="M1688.7 118l9.3-1 10-0.3 20 1 12 1.7 10 2.1 20 5.7 10 3.8 10 4.5 18 10 16 11.6 8 6.9 6 6 5.3 6 6.2 8 4 6 4.4 8 3.5 8 2.8 8 2 8 1.3 8 0.5 8 0 10-0.6 8-1.4 8.4-2.2 7.6-3.3 8-4.5 7.9-3.2 4.1-12.8 7.9-18 8.3-26 1.5-30 0.2-20 5.9-16 2.8-10 0.3-10-1.5-8-3.4-4-2.8-4-3.9-6-8.4-2-4.2-4-11.4-2 0.1 0-164 2 0zM1685.7 400l2.3-0.6 4 0.7 2 1 3.5 2.9 4.5 6.4 2.4 5.6 0.9 4-0.6 2-15.2 18-5.5 4.4-2 1-2-0.1 0-42.3 2-0.1z" fill="#636363"/><path d="M1685.4 120l8.6-1.3 10-0.6 20 0.6 10.9 1.3 11.1 2 20 5.4 18 7 10 4.8 8.5 4.8 9.3 6 8.1 6 13.5 12 5.6 6 6.4 8 4.1 6 4.6 8 3.6 8 3 8 3.1 14 0.9 10 0 10-0.6 8-1.4 8-2.4 8-2.6 6-3.7 6.6-4 5.3-6 4-8 4.2-18 7.6-28 1.3-30 0-18 3.9-12 1.5-10-0.1-10-1.9-8-3.6-4-2.8-4-3.5-6-7.3-2-3.5-2.2-5.7-1.8-2.9-2 0.1 0-158.4zM1685.7 406l2.3-0.3 2 0.3 4 2.3 2 2 2.5 3.7-0.3 2-6.2 10.7-7.2 15.3-2.8 2.4-2 0 0-35.7 2-0.2z" fill="#656565"/><path d="M1694.2 120l17.8-0.6 20 1.6 20 3.8 18 5.5 18 7.6 16 8.9 15.7 11.2 13 12 10 12 5.3 8 3.3 6 5.8 14 1.7 6 1.6 8 0.8 8 0.3 10-0.5 8-1.3 8-1.7 6.4-3.1 7.6-2.9 5.4-4 5.9-6 4.1-8 4.2-10 4.2-10 3.5-30 1.2-34-0.5-10 1.7-10 0.9-12-0.7-10-2.5-6-2.8-4-2.5-8-6.9-8-11.5-2 0 0-153.5z" fill="#676767"/><path d="M1689 122l17-1.3 20 0.9 20 3.2 18 4.9 18 7 17.7 9.3 14.7 10 13.7 12 10.5 12 4.2 6 4.7 8 6.1 14 1.7 6 1.6 8 0.9 8 0.3 10-0.4 8-1.3 8-1.7 6-2.7 6.5-4 7-3.4 4.5-6.6 4.2-8 3.9-12 4.6-8 2.5-32 0.9-36-1.2-16 0.4-12-1.5-6-1.8-6-2.5-6-3.4-8-6-2-1.8-4-5.8-2 0 0-149 2 0z" fill="#696969"/><path d="M1685.7 124l6.3-1.1 10-0.8 10-0.1 10 0.6 20 2.8 18 4.5 18 6.6 16 8 14.8 9.5 7.8 6 6.7 6 11 12 4.4 6 4.9 8 4 8 2.4 6 1.8 6 1.7 8 0.9 8 0.4 10-0.4 8-1 6-1.5 6-2.4 6-3.5 6.6-4 5.5-6 3.9-8 3.9-12 4.4-10 2.9-24 0.6-26-0.4-30-2.4-10-1.4-6-1.3-10-3.5-8-3.6-6-4.3-4-5.4-2 0 0-144.6 2 0z" fill="#6b6b6b"/><path d="M1694.4 124l17.6-0.6 18 1.4 18 3.3 18 5.3 16 6.6 16 8.7 13.3 9.3 12.7 11.4 5.9 6.6 4.6 6 7.4 12 5.1 12 1.8 6 1.5 8 1.2 16-0.5 8-0.9 6-1.7 6-2.4 5.9-3.5 6.1-2.9 4-1.6 1.5-4 2.5-8 3.8-10 3.7-12 3.5-18 0.7-26-0.3-16-0.8-14-1.3-12-1.8-10-2.2-8-2.3-8-3.3-6-3.9-4-5.1-2 0 0-140.4z" fill="#6d6d6d"/><path d="M1689.4 126l16.6-1.3 18 0.8 18 2.7 18 4.7 18 6.9 15.7 8.2 14.7 10 11.4 10 10.5 12 7.7 12 5.4 12 1.8 6 1.7 8 1.3 16-0.5 8-1 6-1.7 6-2.6 6-2.4 4.1-4 5.3-6 3.7-8 3.7-10 3.4-12 3.1-16 0.6-24-0.3-16-0.9-14-1.3-14-2-10-2.2-8-2.3-8-3.4-4-2.7-4-4.8-2 0 0-136.3 2 0z" fill="#6f6f6f"/><path d="M1686.2 128l7.8-1.2 8-0.6 18 0.3 18 2.3 18 4.4 16 5.7 16 7.7 14.8 9.4 12.1 10 5.9 6 5.1 6 8.2 12 5.6 12 3.3 12 1.8 16-0.2 8-0.8 6-1.6 6-2.4 6-3.5 6-3.1 4-6.5 4-8.7 3.7-10 3.2-12 2.9-10 0.4-22-0.2-30-1.8-14-1.7-12-2.2-8-2-8-2.8-6-3.5-4-4.6-2 0 0-132.3 2 0z" fill="#717171"/><path d="M1695.2 128l16.8-0.6 16 1.3 16 2.8 16 4.5 15.4 6 14.6 7.6 12.5 8.4 11.6 10 5.7 6 4.8 6 7.7 12 5 12 2.9 12 1.2 14-0.2 6-0.8 6-1.6 6-2.6 6-2.3 4-3.9 5-6 3.7-8 3.4-10 3.1-10 2.4-8 1.1-24-0.2-30-1.7-14-1.6-12-2.1-8-1.8-8-2.6-6-3.3-4-4.5-2 0.1 0-128.4 2-0.1 6-1.5z" fill="#737373"/><path d="M1690.3 130l15.7-1.2 16 0.6 17.7 2.6 15.6 4 16.2 6 14.5 7.2 13.4 8.8 10.6 8.9 10.2 11.1 7 10 5.7 12 3.3 12 1.3 8 0.5 8-0.1 6-0.9 6-1.7 6-1.6 4-3.5 6-3.3 4-4.9 3.1-6.6 2.9-7.4 2.5-10 2.6-12 2.2-20 0-32-1.7-14-1.6-12-1.9-10-2.2-8-2.8-4-2.3-4-4.2-2 0 0-124.6 2 0z" fill="#757575"/><path d="M1687.2 132l6.8-1.1 8-0.6 16 0.2 16 1.9 16.1 3.6 15.9 5.4 14.3 6.6 13.2 8 12.6 10 9.6 10 4.7 6 3.8 6 3.2 6 2.4 6 3.2 12 1.6 14-0.1 6-0.9 6-1.6 5.7-1.9 4.3-2.3 4-3.8 4.9-4 2.6-6 2.8-8 2.8-8 2.1-16 2.9-14 0-32-1.5-16-1.6-12-1.7-10-2.2-6-1.8-6-2.9-4-4.1-2 0 0-120.8 2 0z" fill="#777777"/><path d="M1697.3 132l14.7-0.4 16 1.3 16 3 13.8 4.1 14.2 5.7 12 6.3 11.8 8 11.5 10 8.7 10 6.3 10 2.9 6 2.2 6 2.7 12 1.1 12-1 10-1.8 6-1.8 4-2.5 4-3.2 4-2.9 2-6 2.9-14 4.5-20 3.6-10 0.1-34-1.6-26-3-8-1.5-8-2.2-6-2.8-4-4-2 0 0-117 2 0 8-2.1z" fill="#797979"/><path d="M1692.3 134l13.7-1 16 0.7 15.4 2.3 14.6 3.7 14 5.2 14 6.9 12 7.8 10.2 8.4 9.2 10 6.8 10 4.6 10 3.3 12 1.6 12-0.1 6-0.9 6-2.7 8.1-2.2 3.9-3.8 5-2 1.6-6 3-10 3.5-16 3.4-14 1.6-34-1.2-28-3-10-1.9-8-2.3-4-2-4-3.9-2 0.1 0-113.4 2 0z" fill="#7b7b7b"/><path d="M1689.2 136l12.8-1.4 16 0.2 14 1.7 15.4 3.5 12.6 4.2 14 6.3 12.5 7.5 10.4 8 9.9 10 7.1 10 4.9 10 3.6 12 1.7 12-0.5 10-1.5 6-1.6 4-2.3 4-3.2 4-2.5 2-4.5 2.3-12 4.2-16 3.2-10 1.3-6 0.2-32-1.3-26-2.8-10-1.9-6-1.8-4-2-4-3.7-2 0 0-109.7 2 0z" fill="#7d7d7d"/><path d="M1704.1 136l13.9 0.3 13.5 1.7 14.5 3.3 12 3.9 12 5.3 12 6.8 9.3 6.7 8.7 8 8.2 10 5.7 10 3.7 10 2.5 12 0.5 10-1.4 8-3.2 7.6-4.8 6.4-3.2 2.1-6 2.7-12 3.6-14 2.5-16 1.5-30-1.3-26-2.7-8-1.6-6-1.7-4-1.8-4-3.7-2 0 0-106 2 0 4-1.4 6-1.2z" fill="#7f7f7f"/><path d="M1696.1 138l11.9-0.5 14 0.7 14 2.3 14 3.7 14 5.4 12 6.2 9.3 6.2 9.5 8 7.3 8 6.5 10 4.4 10 3.1 12 0.9 10-0.8 8-2.9 8-2.5 4-2.8 3.3-2 1.4-6 2.9-12 3.8-16 2.8-16 1.4-30-1.2-24-2.7-12-2.8-4-1.8-4-3.6-2 0 0-102.3 2 0 6-1.9z" fill="#828282"/><path d="M1692.4 140l11.6-1 14 0.4 14 1.9 12 2.8 12 4 12.9 5.9 10.1 6 10.3 8 7.8 8 7.1 10 4.7 10 2.9 10 1.5 10-0.1 6-0.6 4-1.2 4-1.8 4-4.2 6-2.4 2-5 2.5-6 2.2-8 2.2-16 2.7-18 1.3-28-1.2-22-2.6-8-1.7-4-1.4-2-1-4-3.6-2 0 0-98.5 2-0.1 4-1.4z" fill="#848484"/><path d="M1690 142l12-1.3 12 0 12.5 1.3 13.5 2.8 12 3.7 12 5.1 11.3 6.4 8.2 6 8.5 8 6.3 8 5.5 10 3.5 10 2.1 10 0.2 6-0.3 4-2.4 8-3.7 6-1.7 2-3.5 2.4-6 2.6-8 2.5-18 3.3-20 1.5-24-1-22-2.4-6-1.1-6-1.9-2-1-4-3.6-2 0 0-94.7 2 0z" fill="#868686"/><path d="M1688.4 144l11.6-1.6 12-0.2 14 1.4 12 2.4 12 3.7 10.4 4.3 11 6 8.5 6 8.6 8 6.3 8 5.5 10 3.5 10 1.9 10-0.2 8-0.8 4-1.5 4-3.8 6-3.4 3.1-4 2-6 2.3-8 2.2-18 2.8-20 1.3-22-0.9-20-2.4-10-2.6-2-1-4-3.8-2 0.1 0-90.7 2 0z" fill="#888888"/><path d="M1700.8 144l11.2-0.1 12 1.1 12 2.3 10 2.9 10 3.9 11.3 5.9 8.8 6 6.8 6 6.9 8 5 8 3.5 8 2.9 10 0.8 8-1.1 8-2.6 6-4.3 5.6-4 2.4-6 2.5-13.8 3.5-16.2 2.1-20 1-20-0.9-18-2.3-8-2.2-2-1.1-4-3.9-2 0 0-86.4 2-0.1 4-1.7 4-1.1z" fill="#8a8a8a"/><path d="M1697.5 146l10.5-0.5 10 0.6 12 1.7 10 2.5 10.6 3.7 9.4 4.4 9.3 5.6 7.6 6 7.6 8 5.5 8 4 8.5 3 9.5 1 8-0.5 6-2 6-4 6-2 2-5.5 2.7-6 2.1-8 2.1-16 2.4-20 1.1-20-0.4-17.1-2-8.9-2.6-2-1.1-4-4-2 0 0-82 2-0.1 4-1.9 4-1.1z" fill="#8c8c8c"/><path d="M1696 148l10-0.6 10 0.3 12 1.7 10 2.4 10 3.4 10 4.6 7 4.2 7.9 6 6.1 6 5.9 8 4.2 8 3.6 10 1.2 8-0.4 6-1.9 6-3.6 5.4-2.8 2.6-4.1 2-5.4 2-7.7 2.1-16 2.5-20 1.3-18-0.3-16-1.7-6-1.4-4-1.5-2-1.1-4-4-2 0 0-77.5 2 0 6-2.8z" fill="#8e8e8e"/><path d="M1695.5 150l10.5-0.7 10 0.3 10 1.4 10 2.3 8.2 2.7 9.1 4 7.1 4 8.2 6 6.3 6 6 8 4.3 8 3.1 8 1.4 8-0.3 6-1.9 6-3.5 5.2-3.2 2.8-4.3 2-12.5 3.8-16 2.4-18 1.1-18-0.3-16-1.9-8-2.5-2-1.1-4-4.1-2 0 0-72.7 2-0.1 6-3z" fill="#909090"/><path d="M1695.9 152l8.1-0.7 10 0.2 8 0.9 10 2.1 8 2.4 8 3.2 8 4.2 8.1 5.7 6.5 6 4.8 6 4.8 8 3.4 8 1.7 8-0.2 6-1.8 6-2.5 4-1.7 2-2.8 2-6.3 2.7-6 1.8-16 2.9-18 1.3-18-0.2-16-1.9-8-2.4-2-1.2-4-4.2-2 0 0-67.6 2-0.1 6-3.3z" fill="#929292"/><path d="M1697.3 154l8.7-0.6 8 0.3 10 1.3 8 1.8 9.5 3.2 6.5 3 8 4.6 5.8 4.4 6 6 4.6 6 4.6 8 2.4 6 1.3 6 0 6-1.8 6-2.5 4-1.8 2-3 2-5.6 2.3-8 2.3-14 2.4-18 1.2-16-0.3-14-1.7-8-2.6-2-1.1-4-4.4-2 0 0-62.2 2 0 4-2.9 2.4-1z" fill="#949494"/><path d="M1700.4 156l7.6-0.3 8 0.5 10 1.6 7.9 2.2 6.1 2.3 7.7 3.7 6.3 4 5 4 5 5.1 4 5.2 4.6 7.7 2.4 6 1.1 6 0 4-1.7 6-2.5 4-1.9 2-3.2 2-5 2-7.8 2.2-14 2.3-18 1.1-16-0.6-12-1.8-6-2.2-2-1.2-4-4.6-2 0 0-56.2 2 0 4-3.3 4-1.8z" fill="#969696"/><path d="M1692.2 160l7.8-1.4 8-0.4 8 0.6 7.6 1.2 7.6 2 6.8 2.6 7 3.4 6.1 4 4.9 4.1 6 6.6 4.9 7.3 2.8 6 1.4 6 0.1 4-0.8 4-2.4 4.8-4 4-7.5 3.2-10.5 2.6-14 1.8-16 0.5-14-0.9-10-2.1-6-2.9-4-4.9-2 0 0-49.4 2 0 4-4z" fill="#989898"/><path d="M1696.2 162l5.8-0.8 8-0.1 8 0.8 6 1.2 8 2.4 5.8 2.5 10.2 6.3 4.3 3.7 5.7 6.3 3.9 5.7 2.8 6 1.3 6-0.2 4-1.2 4-2.6 4-1.9 2-2.1 1.2-10 3.5-10 2-13.4 1.3-12.6 0.1-12-1.1-8-1.9-4-1.7-2-1.4-4-5.4-2 0.1 0-41.5 2-0.1 4-5 2-1.3 4-1.7z" fill="#9a9a9a"/><path d="M1693.7 166l6.3-1.4 6-0.4 12 0.9 6 1.4 6 2 6 2.7 4.8 2.8 5.3 4 4.2 4 3.7 4.3 3.7 5.7 2.3 6 0.4 4-0.6 4-1.7 4-3.5 4-4.6 2.2-10 2.8-12 1.7-12 0.6-12-0.6-10-1.9-6-2.6-2-1.5-4-6.1-2 0 0-31.6 2 0 4-6.7 2-1.7z" fill="#9c9c9c"/><path d="M1702.9 168l5.1-0.2 6 0.4 10 2.3 10 4.4 4.9 3.1 4.9 4 6.2 7 1.9 3 1.6 4 0.8 4-0.4 4-1.8 4-1.5 2-2.6 2.3-10 3.4-10 1.7-10 0.8-10-0.2-10-1.3-6-1.8-4.9-2.9-1.7-2-3.4-6.5-2 0 0-18.7 2 0 4-9.3 3.7-3.5 6.3-2.7z" fill="#9e9e9e"/><path d="M1695.9 174l8.1-1.7 10 0.4 10 2.6 9.2 4.7 7.5 6 3.3 4 2.2 4 1.2 6-0.9 4-1.1 2-3.4 3.6-4 1.7-8 2.1-10 1.2-10 0.1-8-0.7-8-2-4-1.9-4-3.7-1.9-4.4-0.9-6 0.5-6 2.3-7.9 2-2.8 3.8-3.3z" fill="#a0a0a0"/><path d="M1701.9 178l6.1-0.5 8 0.9 8 2.7 6 3.4 6 5.4 2.5 4.1 0.9 4-0.1 2-1.8 4-1.7 2-3.8 2.3-7.2 1.7-8.8 0.9-8-0.1-6.6-0.8-5.4-1.5-4.9-2.5-3.1-2.8-1.5-3.2-0.5-6 1.5-6 2.5-3.9 2.4-2.1 3.6-2.2z" fill="#a2a2a2"/><path d="M1705.8 184l4.5 0 5.7 1.1 6 2.6 3.2 2.3 2.8 3.5 0.9 2.5 0.1 2-0.6 2-1.3 2-2.5 2-2.6 1.1-4 0.9-6 0.3-5.9-0.3-4.1-0.8-4.1-1.2-3.7-2-1.5-2-1-4 0.3-2.5 1.6-3.5 1.8-2 3-2 3.6-1.3z" fill="#a4a4a4"/></g></g><rect x="1684" y="440.5" width="367.2" height="16" fill="#040404"/><rect x="1684" y="409" width="15.3" height="36" fill="#040404"/><g filter="url(#fb1)"><polygon points="1682,409 1695.6,409 1694,398 1690,384 1686,374 1682,370" fill="#858585"/><polygon points="1682,409 1692.6,409 1691,398 1688,387 1685,380 1682,378" fill="#a8a8a8"/><polygon points="1682,409 1688.6,409 1687.6,399 1685.6,391.6 1682,388" fill="#ebebeb"/><polygon points="1698,418.6 1702,422 1708,430.4 1710.8,436 1711.4,442 1698,442" fill="#202020"/><polygon points="1698,422 1701,424.6 1706,431.6 1708.4,437 1708.8,442 1698,442" fill="#080808"/></g><rect x="1684" y="409" width="15.3" height="36" fill="#040404"/></g></g><g clip-path="url(#cpd)"><g filter="url(#ov)"><path d="M1697 430.4Q1702.8 436.6 1702.8 445.4" fill="none" stroke="#20c0f0" stroke-width="6.4" stroke-linecap="round"/><path d="M1697.2 431Q1702.4 437 1702.6 444.8" fill="none" stroke="#f8e018" stroke-width="4.6" stroke-linecap="round"/><path d="M1697.4 432Q1702 437.4 1702 443.8" fill="none" stroke="#e02000" stroke-width="3.2" stroke-linecap="round"/><path d="M1714 440.5H1955" fill="none" stroke="#b04050" stroke-width="1.1" opacity="0.6"/></g></g><rect x="84.5" y="56" width="339.1" height="402.4" fill="none" stroke="#20203a" stroke-width="1.3" opacity="0.55" filter="url(#soft)"/><g stroke="#7c7c7c" stroke-width="2" opacity="0.95" filter="url(#soft)"><path d="M85.7 458.4v5.5M85.7 56v-5.5M84.5 450.2h-5.5M423.6 450.2h5.5"/><path d="M162.2 458.4v5.5M162.2 56v-5.5M84.5 360.4h-5.5M423.6 360.4h5.5"/><path d="M238.7 458.4v5.5M238.7 56v-5.5M84.5 270.6h-5.5M423.6 270.6h5.5"/><path d="M315.2 458.4v5.5M315.2 56v-5.5M84.5 180.8h-5.5M423.6 180.8h5.5"/><path d="M391.7 458.4v5.5M391.7 56v-5.5M84.5 91h-5.5M423.6 91h5.5"/></g><g class="b" font-size="30" filter="url(#tx)" stroke="#111" stroke-width="0.7"><text transform="translate(88.4 493.6) scale(1 1.075)" text-anchor="middle">0</text><text transform="translate(75.2 464.3) scale(1 1.075)" text-anchor="end">0</text><text transform="translate(164.9 493.6) scale(1 1.075)" text-anchor="middle">0.5</text><text transform="translate(78.2 374.5) scale(1 1.075)" text-anchor="end">0.5</text><text transform="translate(241.4 493.6) scale(1 1.075)" text-anchor="middle">1</text><text transform="translate(78.2 284.7) scale(1 1.075)" text-anchor="end">1</text><text transform="translate(317.9 493.6) scale(1 1.075)" text-anchor="middle">1.5</text><text transform="translate(78.2 194.9) scale(1 1.075)" text-anchor="end">1.5</text><text transform="translate(394.4 493.6) scale(1 1.075)" text-anchor="middle">2</text><text transform="translate(78.2 105.1) scale(1 1.075)" text-anchor="end">2</text></g><g class="b" font-size="31.8" filter="url(#tx)" stroke="#111" stroke-width="0.6"><text x="229" y="530.3">q<tspan font-size="19.1" dy="4.5">xy</tspan><tspan dy="-4.5"> (Å</tspan><tspan font-size="17.5" dy="-11.5">-1</tspan><tspan dy="11.5">)</tspan></text><text transform="translate(32.2 314) rotate(-90)">q<tspan font-size="19.1" dy="4.5">z</tspan><tspan dy="-4.5"> (Å</tspan><tspan font-size="17.5" dy="-11.5">-1</tspan><tspan dy="11.5">)</tspan></text></g><text transform="translate(-0.1 28.9) scale(0.955 1)" font-size="35" fill="#0a0a0a" stroke="#fff" stroke-width="0.35" filter="url(#tagf)">(a)</text><rect x="602" y="57.2" width="339" height="401.1" fill="none" stroke="#20203a" stroke-width="1.3" opacity="0.55" filter="url(#soft)"/><g stroke="#7c7c7c" stroke-width="2" opacity="0.95" filter="url(#soft)"><path d="M604 458.3v5.5M604 57.2v-5.5M602 449.2h-5.5M941 449.2h5.5"/><path d="M680.4 458.3v5.5M680.4 57.2v-5.5M602 359.3h-5.5M941 359.3h5.5"/><path d="M756.8 458.3v5.5M756.8 57.2v-5.5M602 269.4h-5.5M941 269.4h5.5"/><path d="M833.2 458.3v5.5M833.2 57.2v-5.5M602 179.5h-5.5M941 179.5h5.5"/><path d="M909.6 458.3v5.5M909.6 57.2v-5.5M602 89.6h-5.5M941 89.6h5.5"/></g><g class="b" font-size="30" filter="url(#tx)" stroke="#111" stroke-width="0.7"><text transform="translate(606.4 490.9) scale(1 1.075)" text-anchor="middle">0</text><text transform="translate(592.5 462.8) scale(1 1.075)" text-anchor="end">0</text><text transform="translate(682.8 490.9) scale(1 1.075)" text-anchor="middle">0.5</text><text transform="translate(595.8 372.9) scale(1 1.075)" text-anchor="end">0.5</text><text transform="translate(759.2 490.9) scale(1 1.075)" text-anchor="middle">1</text><text transform="translate(595.8 283) scale(1 1.075)" text-anchor="end">1</text><text transform="translate(835.6 490.9) scale(1 1.075)" text-anchor="middle">1.5</text><text transform="translate(595.8 193.1) scale(1 1.075)" text-anchor="end">1.5</text><text transform="translate(912 490.9) scale(1 1.075)" text-anchor="middle">2</text><text transform="translate(595.8 103.2) scale(1 1.075)" text-anchor="end">2</text></g><g class="b" font-size="31.8" filter="url(#tx)" stroke="#111" stroke-width="0.6"><text x="749.4" y="529.6">q<tspan font-size="19.1" dy="4.5">xy</tspan><tspan dy="-4.5"> (Å</tspan><tspan font-size="17.5" dy="-11.5">-1</tspan><tspan dy="11.5">)</tspan></text><text transform="translate(549 316.4) rotate(-90)">q<tspan font-size="19.1" dy="4.5">z</tspan><tspan dy="-4.5"> (Å</tspan><tspan font-size="17.5" dy="-11.5">-1</tspan><tspan dy="11.5">)</tspan></text></g><text transform="translate(528.4 28.9) scale(0.955 1)" font-size="35" fill="#0a0a0a" stroke="#fff" stroke-width="0.35" filter="url(#tagf)">(b)</text><rect x="1136.2" y="54.8" width="369.4" height="401" fill="none" stroke="#20203a" stroke-width="1.3" opacity="0.55" filter="url(#soft)"/><g stroke="#7c7c7c" stroke-width="2" opacity="0.95" filter="url(#soft)"><path d="M1137.4 455.8v5.5M1137.4 54.8v-5.5M1136.2 445h-5.5M1505.6 445h5.5"/><path d="M1214.6 455.8v5.5M1214.6 54.8v-5.5M1136.2 359.1h-5.5M1505.6 359.1h5.5"/><path d="M1291.8 455.8v5.5M1291.8 54.8v-5.5M1136.2 273.3h-5.5M1505.6 273.3h5.5"/><path d="M1369 455.8v5.5M1369 54.8v-5.5M1136.2 187.5h-5.5M1505.6 187.5h5.5"/><path d="M1446.2 455.8v5.5M1446.2 54.8v-5.5M1136.2 101.6h-5.5M1505.6 101.6h5.5"/></g><g class="b" font-size="30" filter="url(#tx)" stroke="#111" stroke-width="0.7"><text transform="translate(1137.9 492.8) scale(1 1.075)" text-anchor="middle">0</text><text transform="translate(1123 457.2) scale(1 1.075)" text-anchor="end">0</text><text transform="translate(1215.1 492.8) scale(1 1.075)" text-anchor="middle">0.5</text><text transform="translate(1123 371.4) scale(1 1.075)" text-anchor="end">0.5</text><text transform="translate(1292.3 492.8) scale(1 1.075)" text-anchor="middle">1</text><text transform="translate(1123 285.5) scale(1 1.075)" text-anchor="end">1</text><text transform="translate(1369.5 492.8) scale(1 1.075)" text-anchor="middle">1.5</text><text transform="translate(1123 199.7) scale(1 1.075)" text-anchor="end">1.5</text><text transform="translate(1446.7 492.8) scale(1 1.075)" text-anchor="middle">2</text><text transform="translate(1123 113.8) scale(1 1.075)" text-anchor="end">2</text></g><g class="b" font-size="31.8" filter="url(#tx)" stroke="#111" stroke-width="0.6"><text x="1286.2" y="534.3">q<tspan font-size="19.1" dy="4.5">xy</tspan><tspan dy="-4.5"> (Å</tspan><tspan font-size="17.5" dy="-11.5">-1</tspan><tspan dy="11.5">)</tspan></text><text transform="translate(1075.8 316.6) rotate(-90)">q<tspan font-size="19.1" dy="4.5">z</tspan><tspan dy="-4.5"> (Å</tspan><tspan font-size="17.5" dy="-11.5">-1</tspan><tspan dy="11.5">)</tspan></text></g><text transform="translate(1056.8 28.9) scale(0.955 1)" font-size="35" fill="#0a0a0a" stroke="#fff" stroke-width="0.35" filter="url(#tagf)">(c)</text><rect x="1684" y="54" width="367.2" height="401.5" fill="none" stroke="#20203a" stroke-width="1.3" opacity="0.55" filter="url(#soft)"/><g stroke="#7c7c7c" stroke-width="2" opacity="0.95" filter="url(#soft)"><path d="M1683.4 455.5v5.5M1683.4 54v-5.5M1684 444.4h-5.5M2051.2 444.4h5.5"/><path d="M1760.6 455.5v5.5M1760.6 54v-5.5M1684 358.8h-5.5M2051.2 358.8h5.5"/><path d="M1837.7 455.5v5.5M1837.7 54v-5.5M1684 273.2h-5.5M2051.2 273.2h5.5"/><path d="M1914.9 455.5v5.5M1914.9 54v-5.5M1684 187.6h-5.5M2051.2 187.6h5.5"/><path d="M1992 455.5v5.5M1992 54v-5.5M1684 102h-5.5M2051.2 102h5.5"/></g><g class="b" font-size="30" filter="url(#tx)" stroke="#111" stroke-width="0.7"><text transform="translate(1686.1 492.8) scale(1 1.075)" text-anchor="middle">0</text><text transform="translate(1671.4 456.8) scale(1 1.075)" text-anchor="end">0</text><text transform="translate(1763.3 492.8) scale(1 1.075)" text-anchor="middle">0.5</text><text transform="translate(1671.4 371.2) scale(1 1.075)" text-anchor="end">0.5</text><text transform="translate(1840.4 492.8) scale(1 1.075)" text-anchor="middle">1</text><text transform="translate(1671.4 285.6) scale(1 1.075)" text-anchor="end">1</text><text transform="translate(1917.6 492.8) scale(1 1.075)" text-anchor="middle">1.5</text><text transform="translate(1671.4 200) scale(1 1.075)" text-anchor="end">1.5</text><text transform="translate(1994.7 492.8) scale(1 1.075)" text-anchor="middle">2</text><text transform="translate(1671.4 114.4) scale(1 1.075)" text-anchor="end">2</text></g><g class="b" font-size="31.8" filter="url(#tx)" stroke="#111" stroke-width="0.6"><text x="1835" y="534.3">q<tspan font-size="19.1" dy="4.5">xy</tspan><tspan dy="-4.5"> (Å</tspan><tspan font-size="17.5" dy="-11.5">-1</tspan><tspan dy="11.5">)</tspan></text><text transform="translate(1623.6 317.8) rotate(-90)">q<tspan font-size="19.1" dy="4.5">z</tspan><tspan dy="-4.5"> (Å</tspan><tspan font-size="17.5" dy="-11.5">-1</tspan><tspan dy="11.5">)</tspan></text></g><text transform="translate(1595.2 28.9) scale(0.955 1)" font-size="35" fill="#0a0a0a" stroke="#fff" stroke-width="0.35" filter="url(#tagf)">(d)</text><text transform="translate(149.4 581.6) scale(0.955 1)" font-size="35" fill="#0a0a0a" stroke="#fff" stroke-width="0.35" filter="url(#tagf)">(e)</text><text transform="translate(898.3 581.6) scale(0.955 1)" font-size="35" fill="#0a0a0a" stroke="#fff" stroke-width="0.35" filter="url(#tagf)">(f)</text><g filter="url(#soft)"><rect x="245" y="577.2" width="500" height="370.1" fill="none" stroke="#8e8e8e" stroke-width="3"/><g stroke="#8c8c8c" stroke-width="1.5"><path d="M245 920.4h4"/><path d="M245 893.8h7"/><path d="M245 867.2h4"/><path d="M245 840.7h7"/><path d="M245 814.1h4"/><path d="M245 787.6h7"/><path d="M245 761h4"/><path d="M245 734.5h7"/><path d="M245 707.9h4"/><path d="M245 681.4h7"/><path d="M245 654.8h4"/><path d="M245 628.3h7"/><path d="M245 601.8h4"/></g><g stroke="#8c8c8c" stroke-width="1.5"><path d="M307.1 947.3v-5"/><path d="M369.6 947.3v-5"/><path d="M432.1 947.3v-5"/><path d="M494.5 947.3v-5"/><path d="M557 947.3v-5"/><path d="M619.4 947.3v-5"/><path d="M681.9 947.3v-5"/></g><g clip-path="url(#rcp)"><path d="M460.8 737V948" stroke="#2b2b2b" stroke-width="3" stroke-dasharray="8.2 6.6" fill="none"/><path d="M620.6 646.5V948" stroke="#2b2b2b" stroke-width="3.2" stroke-dasharray="8.2 6.6" fill="none"/><polyline points="245,943.2 249,943.1 253,943.6 257,943 261,943.4 265,943.3 269,943 273,943.4 277,942.9 281,943.3 285,943 289,943 293,943.3 297,943.7 301,943 305,943.1 309,943.5 313,943.8 317,943.5 321,943.3 325,943.9 329,942.9 333,943.8 337,943.2 341,943 345,943 349,943.2 353,943.7 357,943.1 361,943.5 365,943.5 369,943.3 373,943.4 377,942.9 381,942.9 385,943.1 389,943.5 393,943.3 397,943.1 401,943.4 405,943.2 409,943 413,943.4 417,943.3 421,942.8 425,943 429,942.9 433,943.2 437,942.9 441,942.4 445,943 449,942.1 453,942.4 457,942.7 461,942.1 465,942.4 469,942 473,942.6 477,942.8 481,942.6 485,943 489,942.5 493,943 497,942.9 501,943 505,943 509,943.4 513,943.6 517,943.2 521,943.4 525,942.8 529,943.5 533,943.5 537,943.8 541,943.7 545,943.2 549,943.3 553,943.5 557,942.9 561,943.3 565,943 569,942.9 573,942.8 577,943.4 581,942.7 585,942.7 589,942.6 593,942.9 597,941.8 601,941.9 605,941.8 609,941.9 613,941.6 617,941.6 621,941 625,941.2 629,941.3 633,942 637,942.4 641,941.8 645,942.1 649,942.4 653,942.6 657,943 661,943.2 665,943 669,942.8 673,943.3 677,943.2 681,943.4 685,943.8 689,943.6 693,943.4 697,943.5 701,943.6 705,943 709,943.8 713,943.7 717,943.8 721,943.7 725,943.3 729,943.3 733,943 737,943.5 741,943 745,943" fill="none" stroke="#111" stroke-width="2.2"/><polyline points="245,942.1 245.8,943.4 246.6,941.1 247.4,942.5 248.2,943.4 249,941.6 249.8,944 250.6,943.4 251.4,947.8 252.2,942.6 253,940.3 253.8,940.4 254.6,941.6 255.4,944.5 256.2,940.6 257,942.8 257.8,947.3 258.6,933.6 259.4,938.1 260.2,942.4 261,942.8 261.8,942.3 262.6,940.3 263.4,943.6 264.2,942.5 265,940 265.8,949.1 266.6,942.7 267.4,939.9 268.2,941.3 269,940.9 269.8,941.4 270.6,933.1 271.4,940.1 272.2,944.7 273,938 273.8,941.4 274.6,944.6 275.4,944.3 276.2,946.2 277,936.3 277.8,940.5 278.6,940.5 279.4,943.5 280.2,945 281,933.3 281.8,945 282.6,937.1 283.4,943.7 284.2,937 285,942.1 285.8,945.3 286.6,941.1 287.4,942.2 288.2,944.1 289,942 289.8,941.3 290.6,946.4 291.4,944.9 292.2,940.7 293,950.1 293.8,938 294.6,944.4 295.4,940.8 296.2,942 297,943.8 297.8,942.3 298.6,943.6 299.4,936.9 300.2,936.9 301,943.5 301.8,938.6 302.6,938.4 303.4,937 304.2,945.5 305,943.9 305.8,946.2 306.6,938.7 307.4,941.6 308.2,938.1 309,944 309.8,946.5 310.6,938.8 311.4,946.4 312.2,944.7 313,941 313.8,935.5 314.6,946 315.4,941.3 316.2,939.7 317,942.8 317.8,942.9 318.6,946.2 319.4,938.4 320.2,945.1 321,946.2 321.8,946.1 322.6,941 323.4,939.3 324.2,944.8 325,942 325.8,942 326.6,946 327.4,940.8 328.2,934.5 329,940.4 329.8,935.9 330.6,944.1 331.4,942.6 332.2,939.7 333,941.6 333.8,944.2 334.6,941.8 335.4,945.7 336.2,941.4 337,944.8 337.8,946.2 338.6,946.6 339.4,939.5 340.2,944.3 341,935.8 341.8,938.2 342.6,935.5 343.4,944.9 344.2,937.8 345,941.6 345.8,941 346.6,941.5 347.4,939.8 348.2,942.3 349,947.2 349.8,941.7 350.6,943.2 351.4,944.7 352.2,941 353,937.7 353.8,939.9 354.6,944.9 355.4,936.5 356.2,939.7 357,944.7 357.8,944.1 358.6,941.6 359.4,944.1 360.2,942.1 361,937.9 361.8,936.7 362.6,939.6 363.4,944.5 364.2,939.8 365,938.8 365.8,939.2 366.6,936.8 367.4,941.2 368.2,937.9 369,942.7 369.8,934.3 370.6,942.6 371.4,939.6 372.2,935.6 373,943.8 373.8,940.7 374.6,934.7 375.4,938.9 376.2,942.5 377,940.2 377.8,944 378.6,943.9 379.4,943.6 380.2,942.6 381,945.7 381.8,943.6 382.6,943 383.4,935.1 384.2,944.3 385,945.6 385.8,940.6 386.6,940.1 387.4,947.6 388.2,936.1 389,943 389.8,949 390.6,938.6 391.4,943.7 392.2,947.4 393,941.1 393.8,943.2 394.6,944.3 395.4,938.7 396.2,941.2 397,942.4 397.8,944 398.6,941.3 399.4,940.8 400.2,938.3 401,940.3 401.8,944.1 402.6,941.7 403.4,938.7 404.2,938.7 405,949.6 405.8,944.8 406.6,943.2 407.4,933.2 408.2,943.1 409,942.7 409.8,946.3 410.6,942.4 411.4,940.8 412.2,942.6 413,935 413.8,944.1 414.6,941.9 415.4,938.7 416.2,944.9 417,946.4 417.8,936.3 418.6,938.6 419.4,941.5 420.2,941.1 421,939.2 421.8,937.4 422.6,946.9 423.4,943.4 424.2,936.4 425,935.9 425.8,945.3 426.6,943 427.4,945.5 428.2,942.2 429,936.9 429.8,940.3 430.6,932.7 431.4,937 432.2,939 433,940.7 433.8,936.7 434.6,938.5 435.4,940.2 436.2,939.8 437,940.5 437.8,939 438.6,937.3 439.4,940.6 440.2,938.2 441,935.3 441.8,935.8 442.6,937.6 443.4,937.2 444.2,937.9 445,937.3 445.8,937.7 446.6,936.6 447.4,933 448.2,938.1 449,939.9 449.8,937.8 450.6,935.8 451.4,937.6 452.2,933.1 453,930.1 453.8,936.1 454.6,932.9 455.4,938 456.2,932.2 457,927.4 457.8,932.2 458.6,940.2 459.4,934.1 460.2,930.9 461,932.7 461.8,936.6 462.6,936.5 463.4,935.4 464.2,939.4 465,937 465.8,934.7 466.6,936.6 467.4,939.8 468.2,937.7 469,937.8 469.8,931.3 470.6,934.1 471.4,936.9 472.2,933.7 473,937.9 473.8,936.5 474.6,937.4 475.4,934 476.2,942.6 477,938.5 477.8,934.1 478.6,935 479.4,942.8 480.2,933.8 481,937.6 481.8,938 482.6,935 483.4,931.4 484.2,935.7 485,936.2 485.8,938.7 486.6,937.7 487.4,935.4 488.2,938 489,937.1 489.8,936.1 490.6,935.7 491.4,934.9 492.2,937.8 493,932.5 493.8,933.8 494.6,935.9 495.4,931.4 496.2,934.6 497,929.8 497.8,933.9 498.6,937.9 499.4,937.9 500.2,936 501,935.5 501.8,931.9 502.6,942 503.4,938 504.2,939.8 505,933.7 505.8,935.9 506.6,930.9 507.4,939 508.2,939.5 509,930.7 509.8,936.4 510.6,938.6 511.4,931.2 512.2,931 513,933.4 513.8,934.7 514.6,932.3 515.4,936.8 516.2,937.5 517,938.7 517.8,938.9 518.6,941.4 519.4,940.3 520.2,932.6 521,935.1 521.8,933.4 522.6,933.4 523.4,936.4 524.2,936.7 525,938.2 525.8,931.8 526.6,932.8 527.4,936.6 528.2,936 529,935.7 529.8,936.4 530.6,934.3 531.4,938.8 532.2,937.7 533,936.3 533.8,934.5 534.6,936.1 535.4,928.2 536.2,933.5 537,936.7 537.8,931.9 538.6,937.2 539.4,937 540.2,932.3 541,935.8 541.8,935.6 542.6,938 543.4,938.5 544.2,936.4 545,933.9 545.8,936.1 546.6,936.4 547.4,938.9 548.2,937.5 549,934.3 549.8,932.4 550.6,935.4 551.4,934.3 552.2,933.2 553,936.3 553.8,935.1 554.6,937 555.4,938.3 556.2,935.4 557,943.9 557.8,935.7 558.6,940.1 559.4,937.1 560.2,940.2 561,929.4 561.8,934.4 562.6,937.5 563.4,938.6 564.2,944 565,937.7 565.8,940.7 566.6,939.1 567.4,939.6 568.2,938.3 569,936.2 569.8,938.2 570.6,933.3 571.4,940.2 572.2,933.4 573,937.2 573.8,943 574.6,935.6 575.4,936.3 576.2,939.8 577,936.2 577.8,933.5 578.6,936.6 579.4,937.5 580.2,937.8 581,933 581.8,940.7 582.6,940.2 583.4,934.9 584.2,935.5 585,933.1 585.8,938.6 586.6,931.7 587.4,935.8 588.2,931.9 589,930.9 589.8,935 590.6,936.6 591.4,932.1 592.2,929.7 593,933.9 593.8,930.9 594.6,931.6 595.4,935 596.2,933.3 597,927.8 597.8,936.1 598.6,928.6 599.4,930.6 600.2,925.7 601,927.2 601.8,921.5 602.6,932 603.4,930.3 604.2,921.9 605,920.6 605.8,919.9 606.6,928.2 607.4,922.8 608.2,923.7 609,922.6 609.8,922.9 610.6,919.7 611.4,922.9 612.2,918.2 613,922.2 613.8,923.2 614.6,923.6 615.4,921.4 616.2,919.2 617,922.5 617.8,920.5 618.6,926.9 619.4,924.5 620.2,921.9 621,920.9 621.8,920.4 622.6,919.8 623.4,921.9 624.2,924.1 625,925.1 625.8,925.6 626.6,930.7 627.4,922.4 628.2,925 629,934 629.8,920 630.6,924.6 631.4,927.2 632.2,927.6 633,928.9 633.8,927.3 634.6,929.7 635.4,929.2 636.2,931.9 637,924.2 637.8,927.8 638.6,931 639.4,928.3 640.2,928.8 641,934.4 641.8,930.9 642.6,935.4 643.4,936.2 644.2,935.2 645,936.3 645.8,934.8 646.6,931.1 647.4,935.8 648.2,937.7 649,935 649.8,936.6 650.6,939.6 651.4,934.8 652.2,939.8 653,943.9 653.8,936.6 654.6,939.1 655.4,938.4 656.2,943.8 657,940.2 657.8,942.2 658.6,937.5 659.4,939.7 660.2,939.9 661,934.6 661.8,944.7 662.6,943.1 663.4,935 664.2,942.8 665,940.2 665.8,942.1 666.6,941.9 667.4,936.2 668.2,940.3 669,945.6 669.8,939.3 670.6,937.9 671.4,936.9 672.2,937.4 673,942.3 673.8,946.5 674.6,942.6 675.4,942.1 676.2,948.3 677,939.8 677.8,939.3 678.6,943 679.4,943.1 680.2,938.3 681,937.8 681.8,942.4 682.6,942.2 683.4,937.4 684.2,940.9 685,939.8 685.8,942.9 686.6,941.1 687.4,941.3 688.2,940.4 689,944.8 689.8,945.8 690.6,940.4 691.4,944.2 692.2,939.2 693,941.8 693.8,943.9 694.6,946.2 695.4,940.4 696.2,941.3 697,942.2 697.8,936.9 698.6,941.6 699.4,939.5 700.2,942.7 701,938.1 701.8,935.4 702.6,941.7 703.4,942.4 704.2,939.9 705,944.3 705.8,940.7 706.6,939.7 707.4,943.1 708.2,936.7 709,939.5 709.8,941.5 710.6,944.2 711.4,941.1 712.2,942.5 713,939.6 713.8,942.5 714.6,946.7 715.4,939.5 716.2,948.9 717,939.6 717.8,941.6 718.6,942.1 719.4,944.8 720.2,937.8 721,935.1 721.8,943.5 722.6,944.1 723.4,943.5 724.2,949.7 725,942.2 725.8,942.4 726.6,944.5 727.4,942.7 728.2,946.8 729,937.8 729.8,940.4 730.6,930.9 731.4,944.1 732.2,940.4 733,944.5 733.8,948.3 734.6,941.6 735.4,940.8 736.2,940 737,939 737.8,939.6 738.6,943.6 739.4,941.7 740.2,941.8 741,941.1 741.8,944.4 742.6,943.1 743.4,941.2 744.2,943.7 745,941.1" fill="none" stroke="#ff0000" stroke-width="3.6" stroke-linejoin="round"/><path d="M244.7 933.6C247.2 933.3 254.9 932.7 260 932.1C265.1 931.5 270 930.8 275 929.8C280 928.9 285.5 927.7 289.8 926.5C294.1 925.4 297.1 924.4 301 923C304.9 921.7 309.5 920.7 313.5 918.6C317.5 916.5 321.1 913.3 325 910.4C328.9 907.4 333.2 904.6 337.2 900.9C341.2 897.2 345.1 892.2 349 888.2C352.9 884.2 357.1 880.2 360.9 876.7C364.7 873.1 368.1 870.5 372 866.9C375.9 863.3 380.6 859.2 384.6 855C388.6 850.9 392.1 846.9 396 841.9C399.9 836.9 404.3 831 408.3 824.9C412.3 818.8 416 812.5 420 805.3C424 798 428.8 787.9 432.1 781.4C435.4 775 437.6 770.6 440 766.5C442.4 762.5 444.3 759.7 446.3 757.1C448.3 754.5 450.3 752.6 452 750.9C453.7 749.2 455.1 747.7 456.5 747C457.9 746.2 459.1 746.4 460.5 746.4C461.9 746.5 463.4 746.9 465 747.4C466.6 747.9 468.4 748.6 470 749.6C471.6 750.7 472.5 750.7 474.8 753.6C477.1 756.5 480.9 762.2 484 767C487.1 771.7 490.2 777.1 493.7 782C497.2 786.9 501 791.5 505 796.3C509 801 513.8 806.9 517.5 810.6C521.2 814.3 523.9 816 527 818.3C530.1 820.6 533.4 822.8 536.4 824.4C539.4 825.9 542.2 826.6 545 827.5C547.8 828.4 550.3 829.5 553 829.7C555.7 829.9 558.2 829.5 561 828.7C563.8 827.9 566.9 826.5 569.6 824.7C572.3 822.9 574.6 821.2 577 817.9C579.4 814.7 581.9 809.8 583.9 805.2C585.9 800.7 587.4 796.2 589 790.7C590.6 785.3 591.9 778.8 593.4 772.4C594.9 766 596.4 759.5 598 752.5C599.6 745.4 601.2 738.3 602.8 730.3C604.4 722.2 605.9 712.5 607.5 703.9C609.1 695.3 610.9 685.4 612.3 678.8C613.7 672.1 615 667.4 616 663.9C617 660.4 617.8 659.1 618.5 657.8C619.2 656.5 619.7 656.3 620.4 656.2C621.1 656.1 621.6 655.8 622.5 657.2C623.4 658.6 624.4 661.3 625.5 664.8C626.6 668.3 627.7 672 628.9 678.2C630.1 684.5 631.3 693.7 632.5 702.3C633.7 711 634.7 719.1 636 730.1C637.3 741 638.9 755.5 640.5 768.1C642.1 780.7 643.9 793.9 645.5 805.5C647.1 817.1 648.4 828.3 650 837.8C651.6 847.3 653.4 855.4 655 862.5C656.6 869.5 657.9 875.2 659.5 880.3C661.1 885.4 662.6 888.8 664.5 893C666.4 897.1 668.6 901.5 671 905.2C673.4 908.9 675.9 912.5 678.7 915.1C681.5 917.6 684.8 918.9 688 920.5C691.2 922.2 694.5 923.7 697.7 925C700.9 926.3 703.8 927.4 707 928.3C710.2 929.3 712.9 930.2 716.7 930.9C720.5 931.5 725.3 931.7 730 932.2C734.7 932.8 742.5 933.8 745 934.1" fill="none" stroke="#1414ff" stroke-width="4" stroke-linejoin="round" stroke-linecap="round"/></g><path d="M245 591.9H296" stroke="#3c3cff" stroke-width="4.2"/><path d="M245 623.4H296" stroke="#ff1414" stroke-width="4.2"/><path d="M245 650.5H296" stroke="#1a1a1a" stroke-width="2.8"/></g><g filter="url(#tx)"><g class="b" font-size="20.5" stroke="#111" stroke-width="0.2"><text x="299.3" y="599.2">600<tspan font-weight="normal" fill="#555" stroke="none">°</tspan>C annealed</text><text x="299.3" y="630.6">450<tspan font-weight="normal" fill="#555" stroke="none">°</tspan>C annealed</text><text x="299.3" y="656.6">As-deposited</text></g><text class="ser" x="460" y="730" font-size="32" text-anchor="middle">D</text><text class="ser" x="619.6" y="639.4" font-size="33" text-anchor="middle">G</text><g font-size="20" text-anchor="middle" stroke="#111" stroke-width="0.55"><text x="244.4" y="970.6">1000</text><text x="306.8" y="970.6">1100</text><text x="369.3" y="970.6">1200</text><text x="431.8" y="970.6">1300</text><text x="494.2" y="970.6">1400</text><text x="556.7" y="970.6">1500</text><text x="619.1" y="970.6">1600</text><text x="681.6" y="970.6">1700</text><text x="744" y="970.6">1800</text></g><g class="b" stroke="#111" stroke-width="0.3"><text x="313.2" y="1012.6" font-size="35.85">Raman spectra (cm<tspan font-size="20" dy="-13">-1</tspan><tspan dy="13">)</tspan></text><text transform="translate(206.6 902.4) rotate(-90)" font-size="37.85">Intensity (A.U.)</text></g></g><g filter="url(#soft2)"><polygon points="934.3,811 1181.6,811 1227,828.5 888.4,828.5" fill="#555555"/><rect x="888.4" y="828.5" width="338.6" height="16.7" fill="#fff" stroke="#c4c4c4" stroke-width="1.6"/><path d="M940.1 699C940.9 701.6 943 709.3 945 714.5C946.9 719.7 949.2 725.4 951.8 730.1C954.4 734.8 957.3 738.9 960.6 742.8C963.8 746.7 967.4 750.2 971.3 753.5C975.2 756.7 979.7 759.7 983.9 762.3C988.2 764.9 992.7 766.2 996.6 769.1C1000.5 772 1004.1 775.9 1007.3 779.8C1010.6 783.7 1013.8 788.6 1016.1 792.5C1018.4 796.3 1019.7 799.9 1021 803.2C1022.3 806.4 1023.4 810.5 1023.9 811.9" fill="none" stroke="#e9c8bc" stroke-width="9.8" stroke-linecap="butt"/><path d="M940.1 699C940.9 701.6 943 709.3 945 714.5C946.9 719.7 949.2 725.4 951.8 730.1C954.4 734.8 957.3 738.9 960.6 742.8C963.8 746.7 967.4 750.2 971.3 753.5C975.2 756.7 979.7 759.7 983.9 762.3C988.2 764.9 992.7 766.2 996.6 769.1C1000.5 772 1004.1 775.9 1007.3 779.8C1010.6 783.7 1013.8 788.6 1016.1 792.5C1018.4 796.3 1019.7 799.9 1021 803.2C1022.3 806.4 1023.4 810.5 1023.9 811.9" fill="none" stroke="#f3d9cf" stroke-width="7.6" stroke-linecap="butt"/><path d="M940.1 699C940.9 701.6 943 709.3 945 714.5C946.9 719.7 949.2 725.4 951.8 730.1C954.4 734.8 957.3 738.9 960.6 742.8C963.8 746.7 967.4 750.2 971.3 753.5C975.2 756.7 979.7 759.7 983.9 762.3C988.2 764.9 992.7 766.2 996.6 769.1C1000.5 772 1004.1 775.9 1007.3 779.8C1010.6 783.7 1013.8 788.6 1016.1 792.5C1018.4 796.3 1019.7 799.9 1021 803.2C1022.3 806.4 1023.4 810.5 1023.9 811.9" fill="none" stroke="#faece4" stroke-width="3" stroke-linecap="butt"/><path d="M1061.9 706.7C1061.2 709.3 1059.4 717.1 1058 722.3C1056.5 727.5 1054.7 733.2 1053.1 737.9C1051.5 742.6 1050.2 746.4 1048.2 750.6C1046.3 754.8 1044.2 759.3 1041.4 763.2C1038.6 767.1 1034.6 770.1 1031.7 773.9C1028.7 777.8 1026.1 781.7 1023.9 786.6C1021.7 791.5 1019.9 797.8 1018.4 803.2C1017 808.5 1015.7 816.1 1015.1 818.7" fill="none" stroke="#e9c8bc" stroke-width="9.8" stroke-linecap="butt"/><path d="M1061.9 706.7C1061.2 709.3 1059.4 717.1 1058 722.3C1056.5 727.5 1054.7 733.2 1053.1 737.9C1051.5 742.6 1050.2 746.4 1048.2 750.6C1046.3 754.8 1044.2 759.3 1041.4 763.2C1038.6 767.1 1034.6 770.1 1031.7 773.9C1028.7 777.8 1026.1 781.7 1023.9 786.6C1021.7 791.5 1019.9 797.8 1018.4 803.2C1017 808.5 1015.7 816.1 1015.1 818.7" fill="none" stroke="#f3d9cf" stroke-width="7.6" stroke-linecap="butt"/><path d="M1061.9 706.7C1061.2 709.3 1059.4 717.1 1058 722.3C1056.5 727.5 1054.7 733.2 1053.1 737.9C1051.5 742.6 1050.2 746.4 1048.2 750.6C1046.3 754.8 1044.2 759.3 1041.4 763.2C1038.6 767.1 1034.6 770.1 1031.7 773.9C1028.7 777.8 1026.1 781.7 1023.9 786.6C1021.7 791.5 1019.9 797.8 1018.4 803.2C1017 808.5 1015.7 816.1 1015.1 818.7" fill="none" stroke="#faece4" stroke-width="3" stroke-linecap="butt"/><path d="M1074.5 813.9C1075.2 811.4 1076.8 803.8 1078.4 799.3C1080 794.7 1082 790.8 1084.3 786.6C1086.5 782.4 1089.1 778.2 1092 773.9C1095 769.7 1098.9 765.7 1101.8 761.3C1104.7 756.9 1107.3 752.2 1109.6 747.7C1111.9 743.1 1113.3 739.7 1115.4 734C1117.5 728.3 1120.1 720.4 1122.2 713.6C1124.4 706.7 1127.1 696.5 1128.1 693.1" fill="none" stroke="#e2b5a6" stroke-width="9.8" stroke-linecap="butt"/><path d="M1074.5 813.9C1075.2 811.4 1076.8 803.8 1078.4 799.3C1080 794.7 1082 790.8 1084.3 786.6C1086.5 782.4 1089.1 778.2 1092 773.9C1095 769.7 1098.9 765.7 1101.8 761.3C1104.7 756.9 1107.3 752.2 1109.6 747.7C1111.9 743.1 1113.3 739.7 1115.4 734C1117.5 728.3 1120.1 720.4 1122.2 713.6C1124.4 706.7 1127.1 696.5 1128.1 693.1" fill="none" stroke="#efcbbd" stroke-width="7.6" stroke-linecap="butt"/><path d="M1074.5 813.9C1075.2 811.4 1076.8 803.8 1078.4 799.3C1080 794.7 1082 790.8 1084.3 786.6C1086.5 782.4 1089.1 778.2 1092 773.9C1095 769.7 1098.9 765.7 1101.8 761.3C1104.7 756.9 1107.3 752.2 1109.6 747.7C1111.9 743.1 1113.3 739.7 1115.4 734C1117.5 728.3 1120.1 720.4 1122.2 713.6C1124.4 706.7 1127.1 696.5 1128.1 693.1" fill="none" stroke="#fbe8de" stroke-width="3" stroke-linecap="butt"/><path d="M929.4 694.1C929.7 697.2 930.5 706.3 931.4 712.6C932.2 718.9 933.1 726.2 934.3 732.1C935.4 737.9 936.1 743.1 938.2 747.7C940.3 752.2 944 755.8 946.9 759.3C949.9 762.9 953.1 765.2 955.7 769.1C958.3 773 960.6 778.2 962.5 782.7C964.5 787.3 966.1 791.2 967.4 796.3C968.7 801.5 969.8 811 970.3 813.9" fill="none" stroke="#e2b5a6" stroke-width="9.8" stroke-linecap="butt"/><path d="M929.4 694.1C929.7 697.2 930.5 706.3 931.4 712.6C932.2 718.9 933.1 726.2 934.3 732.1C935.4 737.9 936.1 743.1 938.2 747.7C940.3 752.2 944 755.8 946.9 759.3C949.9 762.9 953.1 765.2 955.7 769.1C958.3 773 960.6 778.2 962.5 782.7C964.5 787.3 966.1 791.2 967.4 796.3C968.7 801.5 969.8 811 970.3 813.9" fill="none" stroke="#efcbbd" stroke-width="7.6" stroke-linecap="butt"/><path d="M929.4 694.1C929.7 697.2 930.5 706.3 931.4 712.6C932.2 718.9 933.1 726.2 934.3 732.1C935.4 737.9 936.1 743.1 938.2 747.7C940.3 752.2 944 755.8 946.9 759.3C949.9 762.9 953.1 765.2 955.7 769.1C958.3 773 960.6 778.2 962.5 782.7C964.5 787.3 966.1 791.2 967.4 796.3C968.7 801.5 969.8 811 970.3 813.9" fill="none" stroke="#fbe8de" stroke-width="3" stroke-linecap="butt"/><path d="M958.6 819.7C959 817.1 960 809.3 961.2 804.1C962.3 798.9 963.4 793.3 965.4 788.6C967.5 783.8 970.3 779.8 973.2 775.9C976.2 772 979.6 768.4 983 765.2C986.4 761.9 990.4 759.7 993.7 756.4C996.9 753.2 1000 749.8 1002.5 745.7C1004.9 741.6 1006.7 736.6 1008.3 732.1C1009.9 727.5 1010.9 723.1 1012.2 718.4C1013.5 713.7 1014.8 708.7 1016.1 703.8C1017.4 699 1019.3 691.7 1020 689.2" fill="none" stroke="#e2b5a6" stroke-width="9.8" stroke-linecap="butt"/><path d="M958.6 819.7C959 817.1 960 809.3 961.2 804.1C962.3 798.9 963.4 793.3 965.4 788.6C967.5 783.8 970.3 779.8 973.2 775.9C976.2 772 979.6 768.4 983 765.2C986.4 761.9 990.4 759.7 993.7 756.4C996.9 753.2 1000 749.8 1002.5 745.7C1004.9 741.6 1006.7 736.6 1008.3 732.1C1009.9 727.5 1010.9 723.1 1012.2 718.4C1013.5 713.7 1014.8 708.7 1016.1 703.8C1017.4 699 1019.3 691.7 1020 689.2" fill="none" stroke="#efcbbd" stroke-width="7.6" stroke-linecap="butt"/><path d="M958.6 819.7C959 817.1 960 809.3 961.2 804.1C962.3 798.9 963.4 793.3 965.4 788.6C967.5 783.8 970.3 779.8 973.2 775.9C976.2 772 979.6 768.4 983 765.2C986.4 761.9 990.4 759.7 993.7 756.4C996.9 753.2 1000 749.8 1002.5 745.7C1004.9 741.6 1006.7 736.6 1008.3 732.1C1009.9 727.5 1010.9 723.1 1012.2 718.4C1013.5 713.7 1014.8 708.7 1016.1 703.8C1017.4 699 1019.3 691.7 1020 689.2" fill="none" stroke="#fbe8de" stroke-width="3" stroke-linecap="butt"/><path d="M1129.1 804.1C1129.7 802.2 1131.3 796.3 1133 792.5C1134.6 788.6 1136.8 784.3 1138.8 780.8C1140.7 777.2 1142.4 773.9 1144.6 771C1146.9 768.1 1149.7 765.8 1152.4 763.2C1155.2 760.6 1158.6 758.4 1161.2 755.4C1163.8 752.5 1166.3 749.1 1168 745.7C1169.7 742.3 1170.5 738.6 1171.5 735C1172.5 731.4 1172.9 727.7 1173.9 724.3C1174.8 720.9 1176.1 717.8 1177.4 714.5C1178.7 711.3 1180.9 706.4 1181.6 704.8" fill="none" stroke="#e2b5a6" stroke-width="9.8" stroke-linecap="butt"/><path d="M1129.1 804.1C1129.7 802.2 1131.3 796.3 1133 792.5C1134.6 788.6 1136.8 784.3 1138.8 780.8C1140.7 777.2 1142.4 773.9 1144.6 771C1146.9 768.1 1149.7 765.8 1152.4 763.2C1155.2 760.6 1158.6 758.4 1161.2 755.4C1163.8 752.5 1166.3 749.1 1168 745.7C1169.7 742.3 1170.5 738.6 1171.5 735C1172.5 731.4 1172.9 727.7 1173.9 724.3C1174.8 720.9 1176.1 717.8 1177.4 714.5C1178.7 711.3 1180.9 706.4 1181.6 704.8" fill="none" stroke="#efcbbd" stroke-width="7.6" stroke-linecap="butt"/><path d="M1129.1 804.1C1129.7 802.2 1131.3 796.3 1133 792.5C1134.6 788.6 1136.8 784.3 1138.8 780.8C1140.7 777.2 1142.4 773.9 1144.6 771C1146.9 768.1 1149.7 765.8 1152.4 763.2C1155.2 760.6 1158.6 758.4 1161.2 755.4C1163.8 752.5 1166.3 749.1 1168 745.7C1169.7 742.3 1170.5 738.6 1171.5 735C1172.5 731.4 1172.9 727.7 1173.9 724.3C1174.8 720.9 1176.1 717.8 1177.4 714.5C1178.7 711.3 1180.9 706.4 1181.6 704.8" fill="none" stroke="#fbe8de" stroke-width="3" stroke-linecap="butt"/><path d="M1045.3 696C1046.1 698.5 1048.5 705.9 1050.2 710.6C1051.8 715.3 1053.3 719.7 1055 724.3C1056.8 728.8 1058.6 733.7 1060.9 737.9C1063.2 742.1 1065.6 745.9 1068.7 749.6C1071.8 753.3 1075.5 757.1 1079.4 760.3C1083.3 763.6 1088.2 766.2 1092 769.1C1095.9 772 1099.5 774.6 1102.8 777.8C1106 781.1 1108.9 784.8 1111.5 788.6C1114.1 792.3 1116.4 796.3 1118.3 800.2C1120.3 804.1 1121.4 807.7 1123.2 811.9C1125 816.1 1128.1 823.3 1129.1 825.6" fill="none" stroke="#e2b5a6" stroke-width="9.8" stroke-linecap="butt"/><path d="M1045.3 696C1046.1 698.5 1048.5 705.9 1050.2 710.6C1051.8 715.3 1053.3 719.7 1055 724.3C1056.8 728.8 1058.6 733.7 1060.9 737.9C1063.2 742.1 1065.6 745.9 1068.7 749.6C1071.8 753.3 1075.5 757.1 1079.4 760.3C1083.3 763.6 1088.2 766.2 1092 769.1C1095.9 772 1099.5 774.6 1102.8 777.8C1106 781.1 1108.9 784.8 1111.5 788.6C1114.1 792.3 1116.4 796.3 1118.3 800.2C1120.3 804.1 1121.4 807.7 1123.2 811.9C1125 816.1 1128.1 823.3 1129.1 825.6" fill="none" stroke="#efcbbd" stroke-width="7.6" stroke-linecap="butt"/><path d="M1045.3 696C1046.1 698.5 1048.5 705.9 1050.2 710.6C1051.8 715.3 1053.3 719.7 1055 724.3C1056.8 728.8 1058.6 733.7 1060.9 737.9C1063.2 742.1 1065.6 745.9 1068.7 749.6C1071.8 753.3 1075.5 757.1 1079.4 760.3C1083.3 763.6 1088.2 766.2 1092 769.1C1095.9 772 1099.5 774.6 1102.8 777.8C1106 781.1 1108.9 784.8 1111.5 788.6C1114.1 792.3 1116.4 796.3 1118.3 800.2C1120.3 804.1 1121.4 807.7 1123.2 811.9C1125 816.1 1128.1 823.3 1129.1 825.6" fill="none" stroke="#fbe8de" stroke-width="3" stroke-linecap="butt"/><path d="M986.9 684.3C987.7 686.8 990.1 694.2 991.7 699C993.4 703.7 994.8 707.7 996.6 712.6C998.4 717.5 1000.2 723.3 1002.5 728.2C1004.7 733 1007 737.6 1010.2 741.8C1013.5 746 1017.7 749.9 1021.9 753.5C1026.1 757.1 1031.3 760.3 1035.6 763.2C1039.8 766.2 1043.7 768.1 1047.2 771C1050.8 773.9 1053.7 777.2 1057 780.8C1060.2 784.3 1063.8 788.6 1066.7 792.5C1069.6 796.3 1072.3 800.6 1074.5 804.1C1076.7 807.7 1078.3 810.6 1080 813.9C1081.6 817.1 1083.5 822 1084.3 823.6" fill="none" stroke="#e2b5a6" stroke-width="9.8" stroke-linecap="butt"/><path d="M986.9 684.3C987.7 686.8 990.1 694.2 991.7 699C993.4 703.7 994.8 707.7 996.6 712.6C998.4 717.5 1000.2 723.3 1002.5 728.2C1004.7 733 1007 737.6 1010.2 741.8C1013.5 746 1017.7 749.9 1021.9 753.5C1026.1 757.1 1031.3 760.3 1035.6 763.2C1039.8 766.2 1043.7 768.1 1047.2 771C1050.8 773.9 1053.7 777.2 1057 780.8C1060.2 784.3 1063.8 788.6 1066.7 792.5C1069.6 796.3 1072.3 800.6 1074.5 804.1C1076.7 807.7 1078.3 810.6 1080 813.9C1081.6 817.1 1083.5 822 1084.3 823.6" fill="none" stroke="#efcbbd" stroke-width="7.6" stroke-linecap="butt"/><path d="M986.9 684.3C987.7 686.8 990.1 694.2 991.7 699C993.4 703.7 994.8 707.7 996.6 712.6C998.4 717.5 1000.2 723.3 1002.5 728.2C1004.7 733 1007 737.6 1010.2 741.8C1013.5 746 1017.7 749.9 1021.9 753.5C1026.1 757.1 1031.3 760.3 1035.6 763.2C1039.8 766.2 1043.7 768.1 1047.2 771C1050.8 773.9 1053.7 777.2 1057 780.8C1060.2 784.3 1063.8 788.6 1066.7 792.5C1069.6 796.3 1072.3 800.6 1074.5 804.1C1076.7 807.7 1078.3 810.6 1080 813.9C1081.6 817.1 1083.5 822 1084.3 823.6" fill="none" stroke="#fbe8de" stroke-width="3" stroke-linecap="butt"/><ellipse cx="929.4" cy="694.1" rx="4.3" ry="2.6" fill="#d9a89c"/><ellipse cx="986.9" cy="684.3" rx="4.3" ry="2.6" fill="#d9a89c"/><ellipse cx="1020" cy="689.2" rx="4.3" ry="2.6" fill="#d9a89c"/><ellipse cx="1128.1" cy="693.1" rx="4.3" ry="2.6" fill="#d9a89c"/><polygon points="1300,789 1585,789 1617.3,814.8 1261,814.8" fill="#555555"/><rect x="1261" y="814.8" width="356.3" height="28.5" fill="#fff" stroke="#c4c4c4" stroke-width="1.6"/><polygon points="1330.8,745.1 1352.8,745.1 1360.2,767.1 1341.8,772.6 1327.1,763.4" fill="#a3bb95" stroke="#4f6049" stroke-width="1.1" stroke-linejoin="round"/><polygon points="1457.5,745.1 1475.8,745.1 1488.7,767.1 1470.3,776.3 1455.6,767.1" fill="#a3bb95" stroke="#4f6049" stroke-width="1.1" stroke-linejoin="round"/><polygon points="1525.4,745.1 1547.4,745.1 1547.4,785.5 1529.1,778.1" fill="#a3bb95" stroke="#4f6049" stroke-width="1.1" stroke-linejoin="round"/><polygon points="1378.5,778.1 1415.2,778.1 1415.2,792.8 1378.5,792.8" fill="#6f8a66" stroke="#4f6049" stroke-width="1.1" stroke-linejoin="round"/><polygon points="1336.3,738.7 1352.8,738.7 1352.8,749.7 1341.8,749.7" fill="#d2efbf" stroke="#4f6049" stroke-width="1.1" stroke-linejoin="round"/><polygon points="1310.6,729.5 1319.8,719.4 1335.4,719.4 1326.2,729.5" fill="#a3bb95" stroke="#4f6049" stroke-width="1.1" stroke-linejoin="round"/><polygon points="1326.2,729.5 1335.4,719.4 1341.8,726.7 1333.5,735.9" fill="#d2efbf" stroke="#4f6049" stroke-width="1.1" stroke-linejoin="round"/><polygon points="1271.1,749.7 1292.2,734.1 1327.1,734.1 1297.7,750.6" fill="#6f8a66" stroke="#4f6049" stroke-width="1.1" stroke-linejoin="round"/><polygon points="1297.7,750.6 1327.1,734.1 1330.8,745.1 1300.5,760.7" fill="#d2efbf" stroke="#4f6049" stroke-width="1.1" stroke-linejoin="round"/><polygon points="1271.1,749.7 1297.7,750.6 1300.5,760.7 1273.9,759.8" fill="#a3bb95" stroke="#4f6049" stroke-width="1.1" stroke-linejoin="round"/><polygon points="1301.4,760.7 1328.9,745.1 1340,757.9 1338.1,760.7" fill="#6f8a66" stroke="#4f6049" stroke-width="1.1" stroke-linejoin="round"/><polygon points="1319.8,762.5 1343.6,762.5 1343.6,770.8 1318.8,770.8" fill="#d2efbf" stroke="#4f6049" stroke-width="1.1" stroke-linejoin="round"/><polygon points="1303.2,772.6 1341.8,773.5 1342.7,781.8 1303.2,781.8" fill="#d2efbf" stroke="#4f6049" stroke-width="1.1" stroke-linejoin="round"/><polygon points="1303.2,781.8 1342.7,781.8 1343.6,796.5 1303.2,789.1" fill="#a3bb95" stroke="#4f6049" stroke-width="1.1" stroke-linejoin="round"/><polygon points="1291.3,790.1 1333.5,789.1 1334.5,799.2 1290.4,800.2" fill="#d2efbf" stroke="#4f6049" stroke-width="1.1" stroke-linejoin="round"/><polygon points="1284.9,802 1290.4,800.2 1334.5,799.2 1328.9,808.4 1285.8,808.4" fill="#6f8a66" stroke="#4f6049" stroke-width="1.1" stroke-linejoin="round"/><polygon points="1352.8,733.1 1378.5,731.3 1390.4,724.9 1394.1,733.1 1393.2,741.4 1354.6,741.4" fill="#d2efbf" stroke="#4f6049" stroke-width="1.1" stroke-linejoin="round"/><polygon points="1385.9,763.4 1409.7,763.4 1409.7,778.1 1382.2,778.1" fill="#a3bb95" stroke="#4f6049" stroke-width="1.1" stroke-linejoin="round"/><polygon points="1345.5,770.8 1358.3,741.4 1384,743.2 1371.2,774.5" fill="#a3bb95" stroke="#4f6049" stroke-width="1.1" stroke-linejoin="round"/><polygon points="1371.2,774.5 1384,743.2 1395,748.7 1378.5,778.1" fill="#d2efbf" stroke="#4f6049" stroke-width="1.1" stroke-linejoin="round"/><polygon points="1395,745.1 1402.4,750.6 1396.9,759.8" fill="#55684e" stroke="#4f6049" stroke-width="1.1" stroke-linejoin="round"/><polygon points="1354.6,800.2 1374.8,780 1407.9,781.8 1385.9,803.8" fill="#6f8a66" stroke="#4f6049" stroke-width="1.1" stroke-linejoin="round"/><polygon points="1354.6,800.2 1385.9,803.8 1387.7,811.2 1360.2,807.5" fill="#d2efbf" stroke="#4f6049" stroke-width="1.1" stroke-linejoin="round"/><polygon points="1385.9,803.8 1407.9,781.8 1407.9,789.1 1387.7,811.2" fill="#d2efbf" stroke="#4f6049" stroke-width="1.1" stroke-linejoin="round"/><polygon points="1411.6,737.7 1418.9,720.3 1457.5,720.3 1453.8,738.7" fill="#a3bb95" stroke="#4f6049" stroke-width="1.1" stroke-linejoin="round"/><polygon points="1453.8,738.7 1457.5,720.3 1459.3,722.1 1456.5,746.9 1453.8,746.9" fill="#6f8a66" stroke="#4f6049" stroke-width="1.1" stroke-linejoin="round"/><polygon points="1411.6,738.7 1453.8,738.7 1453.8,746.9 1412.5,746.9" fill="#d2efbf" stroke="#4f6049" stroke-width="1.1" stroke-linejoin="round"/><polygon points="1412.5,747.8 1453.8,746.9 1455.6,781.8 1411.6,780" fill="#d2efbf" stroke="#4f6049" stroke-width="1.1" stroke-linejoin="round"/><polygon points="1455.6,763.4 1470.3,765.3 1470.3,785.5 1455.6,781.8" fill="#a3bb95" stroke="#4f6049" stroke-width="1.1" stroke-linejoin="round"/><polygon points="1411.6,781.8 1433.6,783.6 1433.6,792.8 1413.4,794.6" fill="#6f8a66" stroke="#4f6049" stroke-width="1.1" stroke-linejoin="round"/><polygon points="1422.6,790.1 1431.8,792.8 1459.3,813 1451.9,813" fill="#55684e" stroke="#4f6049" stroke-width="1.1" stroke-linejoin="round"/><polygon points="1431.8,792.8 1442.8,785.5 1472.1,807.5 1459.3,813" fill="#d2efbf" stroke="#4f6049" stroke-width="1.1" stroke-linejoin="round"/><polygon points="1455.6,734.1 1470.3,743.2 1470.3,752.4 1455.6,743.2" fill="#d2efbf" stroke="#4f6049" stroke-width="1.1" stroke-linejoin="round"/><polygon points="1468.5,726.7 1474,719.4 1501.5,719.4 1496,726.7" fill="#a3bb95" stroke="#4f6049" stroke-width="1.1" stroke-linejoin="round"/><polygon points="1472.1,728.6 1496,726.7 1510.7,743.2 1475.8,739.6" fill="#6f8a66" stroke="#4f6049" stroke-width="1.1" stroke-linejoin="round"/><polygon points="1496,726.7 1501.5,719.4 1518,741.4 1510.7,745.1" fill="#d2efbf" stroke="#4f6049" stroke-width="1.1" stroke-linejoin="round"/><polygon points="1475.8,740.5 1510.7,744.2 1525.4,752.4 1501.5,754.3" fill="#6f8a66" stroke="#4f6049" stroke-width="1.1" stroke-linejoin="round"/><polygon points="1470.3,743.2 1501.5,754.3 1501.5,763.4 1470.3,752.4" fill="#d2efbf" stroke="#4f6049" stroke-width="1.1" stroke-linejoin="round"/><polygon points="1501.5,754.3 1525.4,752.4 1525.4,763.4 1501.5,763.4" fill="#a3bb95" stroke="#4f6049" stroke-width="1.1" stroke-linejoin="round"/><polygon points="1486.8,772.6 1507,765.3 1527.2,767.1 1527.2,776.3 1507,785.5 1486.8,800.2" fill="#a3bb95" stroke="#4f6049" stroke-width="1.1" stroke-linejoin="round"/><polygon points="1485,776.3 1503.4,787.3 1488.7,800.2" fill="#d2efbf" stroke="#4f6049" stroke-width="1.1" stroke-linejoin="round"/><polygon points="1505.2,780 1521.7,776.3 1525.4,785.5 1507,789.1" fill="#d2efbf" stroke="#4f6049" stroke-width="1.1" stroke-linejoin="round"/><polygon points="1490.5,800.2 1527.2,783.6 1529.1,787.3 1492.3,805.7" fill="#55684e" stroke="#4f6049" stroke-width="1.1" stroke-linejoin="round"/><polygon points="1492.3,805.7 1529.1,787.3 1536.4,796.5 1503.4,813" fill="#d2efbf" stroke="#4f6049" stroke-width="1.1" stroke-linejoin="round"/><polygon points="1530.9,729.5 1543.7,735.9 1543.7,752.4 1529.1,745.1" fill="#a3bb95" stroke="#4f6049" stroke-width="1.1" stroke-linejoin="round"/><polygon points="1532.7,729.5 1569.4,726.7 1587.8,733.1 1543.7,735.9" fill="#6f8a66" stroke="#4f6049" stroke-width="1.1" stroke-linejoin="round"/><polygon points="1545.6,737.7 1584.1,736.8 1586,745.1 1545.6,745.1" fill="#d2efbf" stroke="#4f6049" stroke-width="1.1" stroke-linejoin="round"/><polygon points="1545.6,746.9 1587.8,746.9 1593.3,772.6 1547.4,774.5" fill="#a3bb95" stroke="#4f6049" stroke-width="1.1" stroke-linejoin="round"/><polygon points="1536.4,768.9 1547.4,768.9 1547.4,778.1 1536.4,777.2" fill="#d2efbf" stroke="#4f6049" stroke-width="1.1" stroke-linejoin="round"/><polygon points="1547.4,774.5 1593.3,772.6 1593.3,781.8 1547.4,781.8" fill="#d2efbf" stroke="#4f6049" stroke-width="1.1" stroke-linejoin="round"/><polygon points="1589.6,783.6 1597,787.3 1597,794.6 1591.5,798.3" fill="#d2efbf" stroke="#4f6049" stroke-width="1.1" stroke-linejoin="round"/><polygon points="1545.6,783.6 1589.6,785.5 1591.5,800.2 1547.4,800.2" fill="#6f8a66" stroke="#4f6049" stroke-width="1.1" stroke-linejoin="round"/><polygon points="1547.4,801.1 1591.5,800.2 1591.5,810.2 1549.2,810.2" fill="#d2efbf" stroke="#4f6049" stroke-width="1.1" stroke-linejoin="round"/><polygon points="1709.5,795.8 2016.5,795.8 2062,815.6 1672.8,815.6" fill="#555555"/><rect x="1672.8" y="815.6" width="389.2" height="26.8" fill="#fff" stroke="#c4c4c4" stroke-width="1.6"/><polygon points="1708.5,674 1757,687.8 1755.1,692.2 1705.6,683.9" fill="#d2efbf" stroke="#4f6049" stroke-width="1.1" stroke-linejoin="round"/><polygon points="1757,688.8 1777.8,693.8 1775.9,702.7 1761,701.7" fill="#55684e" stroke="#4f6049" stroke-width="1.1" stroke-linejoin="round"/><polygon points="1697.6,697.7 1759,690.8 1761,701.7 1698.6,709.6" fill="#d2efbf" stroke="#4f6049" stroke-width="1.1" stroke-linejoin="round"/><polygon points="1842.2,695.7 1864,692.8 1864,701.7 1844.2,702.7" fill="#a3bb95" stroke="#4f6049" stroke-width="1.1" stroke-linejoin="round"/><polygon points="1796.7,696.7 1853.1,681.9 1868,687.8 1864,703.7 1828.4,705.7 1788.7,695.7" fill="#6f8a66" stroke="#4f6049" stroke-width="1.1" stroke-linejoin="round"/><polygon points="1850.1,672 1866,677.9 1868,687.8 1853.1,681.9" fill="#55684e" stroke="#4f6049" stroke-width="1.1" stroke-linejoin="round"/><polygon points="1788.7,686.8 1850.1,672 1853.1,681.9 1796.7,696.7" fill="#d2efbf" stroke="#4f6049" stroke-width="1.1" stroke-linejoin="round"/><polygon points="1872.9,702.7 1883.8,702.7 1907.6,706.6 1874.9,712.6" fill="#a3bb95" stroke="#4f6049" stroke-width="1.1" stroke-linejoin="round"/><polygon points="1883.8,691.8 1896.7,684.9 1953.1,687.8 1945.2,694.8" fill="#6f8a66" stroke="#4f6049" stroke-width="1.1" stroke-linejoin="round"/><polygon points="1942.2,696.7 1953.1,687.8 1953.1,697.7 1942.2,707.6" fill="#6f8a66" stroke="#4f6049" stroke-width="1.1" stroke-linejoin="round"/><polygon points="1883.8,693.8 1942.2,696.7 1942.2,707.6 1883.8,703.7" fill="#d2efbf" stroke="#4f6049" stroke-width="1.1" stroke-linejoin="round"/><polygon points="1953.1,696.7 1972.9,696.7 1972.9,706.6 1954.1,705.7" fill="#6f8a66" stroke="#4f6049" stroke-width="1.1" stroke-linejoin="round"/><polygon points="1972.9,697.7 1996.7,699.7 2024.4,709.6 2008.6,712.6 1973.9,706.6" fill="#d2efbf" stroke="#4f6049" stroke-width="1.1" stroke-linejoin="round"/><polygon points="1979.9,706.6 1985.8,704.7 1986.8,715.6 1980.9,715.6" fill="#55684e" stroke="#4f6049" stroke-width="1.1" stroke-linejoin="round"/><polygon points="1984.8,704.7 2045.2,691.8 2048.2,701.7 1986.8,715.6" fill="#d2efbf" stroke="#4f6049" stroke-width="1.1" stroke-linejoin="round"/><polygon points="1723.4,722.5 1759,729.4 1759,735.4 1723.4,729.4" fill="#a3bb95" stroke="#4f6049" stroke-width="1.1" stroke-linejoin="round"/><polygon points="1767,739.3 1782.8,733.4 1792.7,737.3 1792.7,747.2 1767,743.3" fill="#d2efbf" stroke="#4f6049" stroke-width="1.1" stroke-linejoin="round"/><polygon points="1716.4,737.3 1720.4,737.3 1721.4,748.2 1717.4,748.2" fill="#55684e" stroke="#4f6049" stroke-width="1.1" stroke-linejoin="round"/><polygon points="1719.4,737.3 1780.8,728.4 1782.8,738.3 1720.4,748.2" fill="#d2efbf" stroke="#4f6049" stroke-width="1.1" stroke-linejoin="round"/><polygon points="1846.2,727.4 1877.9,722.5 1878.9,731.4 1858.1,733.4" fill="#a3bb95" stroke="#4f6049" stroke-width="1.1" stroke-linejoin="round"/><polygon points="1806.6,737.3 1838.3,735.4 1838.3,739.3 1808.5,745.3" fill="#d2efbf" stroke="#4f6049" stroke-width="1.1" stroke-linejoin="round"/><polygon points="1798.6,720.5 1824.4,726.4 1824.4,735.4 1798.6,729.4" fill="#a3bb95" stroke="#4f6049" stroke-width="1.1" stroke-linejoin="round"/><polygon points="1824.4,726.4 1877.9,738.3 1876.9,747.2 1824.4,735.4" fill="#d2efbf" stroke="#4f6049" stroke-width="1.1" stroke-linejoin="round"/><polygon points="1933.3,747.2 1953.1,745.3 1953.1,755.2 1937.3,753.2" fill="#d2efbf" stroke="#4f6049" stroke-width="1.1" stroke-linejoin="round"/><polygon points="1887.8,730.4 1923.4,723.5 1971,726.4 1933.3,736.3" fill="#6f8a66" stroke="#4f6049" stroke-width="1.1" stroke-linejoin="round"/><polygon points="1887.8,733.4 1933.3,737.3 1933.3,747.2 1887.8,744.3" fill="#a3bb95" stroke="#4f6049" stroke-width="1.1" stroke-linejoin="round"/><polygon points="1933.3,737.3 1971,727.4 1971,736.3 1933.3,747.2" fill="#a3bb95" stroke="#4f6049" stroke-width="1.1" stroke-linejoin="round"/><polygon points="1972.9,727.4 2018.5,733.4 2024.4,739.3 1972.9,736.3" fill="#d2efbf" stroke="#4f6049" stroke-width="1.1" stroke-linejoin="round"/><polygon points="1992.7,746.3 2052.2,729.4 2056.1,739.3 2049.2,737.3 1990.8,750.2" fill="#55684e" stroke="#4f6049" stroke-width="1.1" stroke-linejoin="round"/><polygon points="1989.8,751.2 2049.2,737.3 2052.2,747.2 1991.7,761.1" fill="#d2efbf" stroke="#4f6049" stroke-width="1.1" stroke-linejoin="round"/><polygon points="1707.5,766.1 1739.2,774 1737.2,778.9 1706.5,774" fill="#d2efbf" stroke="#4f6049" stroke-width="1.1" stroke-linejoin="round"/><polygon points="1711.5,765.1 1729.3,767 1757,776 1743.2,777.9" fill="#55684e" stroke="#4f6049" stroke-width="1.1" stroke-linejoin="round"/><polygon points="1738.2,780.9 1774.9,775 1776.9,784.9 1739.2,790.8" fill="#a3bb95" stroke="#4f6049" stroke-width="1.1" stroke-linejoin="round"/><polygon points="1690.7,786.9 1738.2,780.9 1739.2,790.8 1691.7,795.8" fill="#d2efbf" stroke="#4f6049" stroke-width="1.1" stroke-linejoin="round"/><polygon points="1788.7,770 1824.4,770 1842.2,775 1788.7,778.9" fill="#a3bb95" stroke="#4f6049" stroke-width="1.1" stroke-linejoin="round"/><polygon points="1806.6,782.9 1858.1,773 1862,776 1802.6,788.8" fill="#55684e" stroke="#4f6049" stroke-width="1.1" stroke-linejoin="round"/><polygon points="1791.7,789.8 1802.6,788.8 1806.6,799.7 1793.7,798.7" fill="#a3bb95" stroke="#4f6049" stroke-width="1.1" stroke-linejoin="round"/><polygon points="1802.6,789.8 1860,776 1864,784.9 1806.6,799.7" fill="#d2efbf" stroke="#4f6049" stroke-width="1.1" stroke-linejoin="round"/><polygon points="1893.7,774 1917.5,767 1945.2,764.1 1907.6,776" fill="#55684e" stroke="#4f6049" stroke-width="1.1" stroke-linejoin="round"/><polygon points="1907.6,775 1945.2,766.1 1946.2,774 1917.5,780.9" fill="#d2efbf" stroke="#4f6049" stroke-width="1.1" stroke-linejoin="round"/><polygon points="1907.6,777 1949.2,783.9 1923.4,786.9" fill="#55684e" stroke="#4f6049" stroke-width="1.1" stroke-linejoin="round"/><polygon points="1870.9,774 1923.4,786.9 1923.4,795.8 1870.9,784.9" fill="#d2efbf" stroke="#4f6049" stroke-width="1.1" stroke-linejoin="round"/><polygon points="1923.4,786.9 1949.2,784.9 1949.2,793.8 1923.4,795.8" fill="#a3bb95" stroke="#4f6049" stroke-width="1.1" stroke-linejoin="round"/><polygon points="1955.1,772 1996.7,777.9 1972.9,780.9 1955.1,778.9" fill="#55684e" stroke="#4f6049" stroke-width="1.1" stroke-linejoin="round"/><polygon points="1972.9,777 1992.7,777.9 1976.9,781.9" fill="#d2efbf" stroke="#4f6049" stroke-width="1.1" stroke-linejoin="round"/><polygon points="1969,783.9 2048.2,771 2050.2,773 2004.6,783.9" fill="#55684e" stroke="#4f6049" stroke-width="1.1" stroke-linejoin="round"/><polygon points="1967,786.9 2003.6,784.9 2005.6,794.8 1968,796.8" fill="#a3bb95" stroke="#4f6049" stroke-width="1.1" stroke-linejoin="round"/><polygon points="2003.6,784.9 2049.2,773 2051.2,782.9 2005.6,793.8" fill="#d2efbf" stroke="#4f6049" stroke-width="1.1" stroke-linejoin="round"/></g><g filter="url(#soft)"><path d="M932 872.4H1982.4V862.2L2006.2 884.7L1982.4 908.3V896.8H932Z" fill="url(#arr)"/></g><text class="b" x="1144.6" y="952.8" font-size="38" filter="url(#tx)" stroke="#111" stroke-width="0.15">Increasing annealing temperature</text>
</svg>
</body></html>
